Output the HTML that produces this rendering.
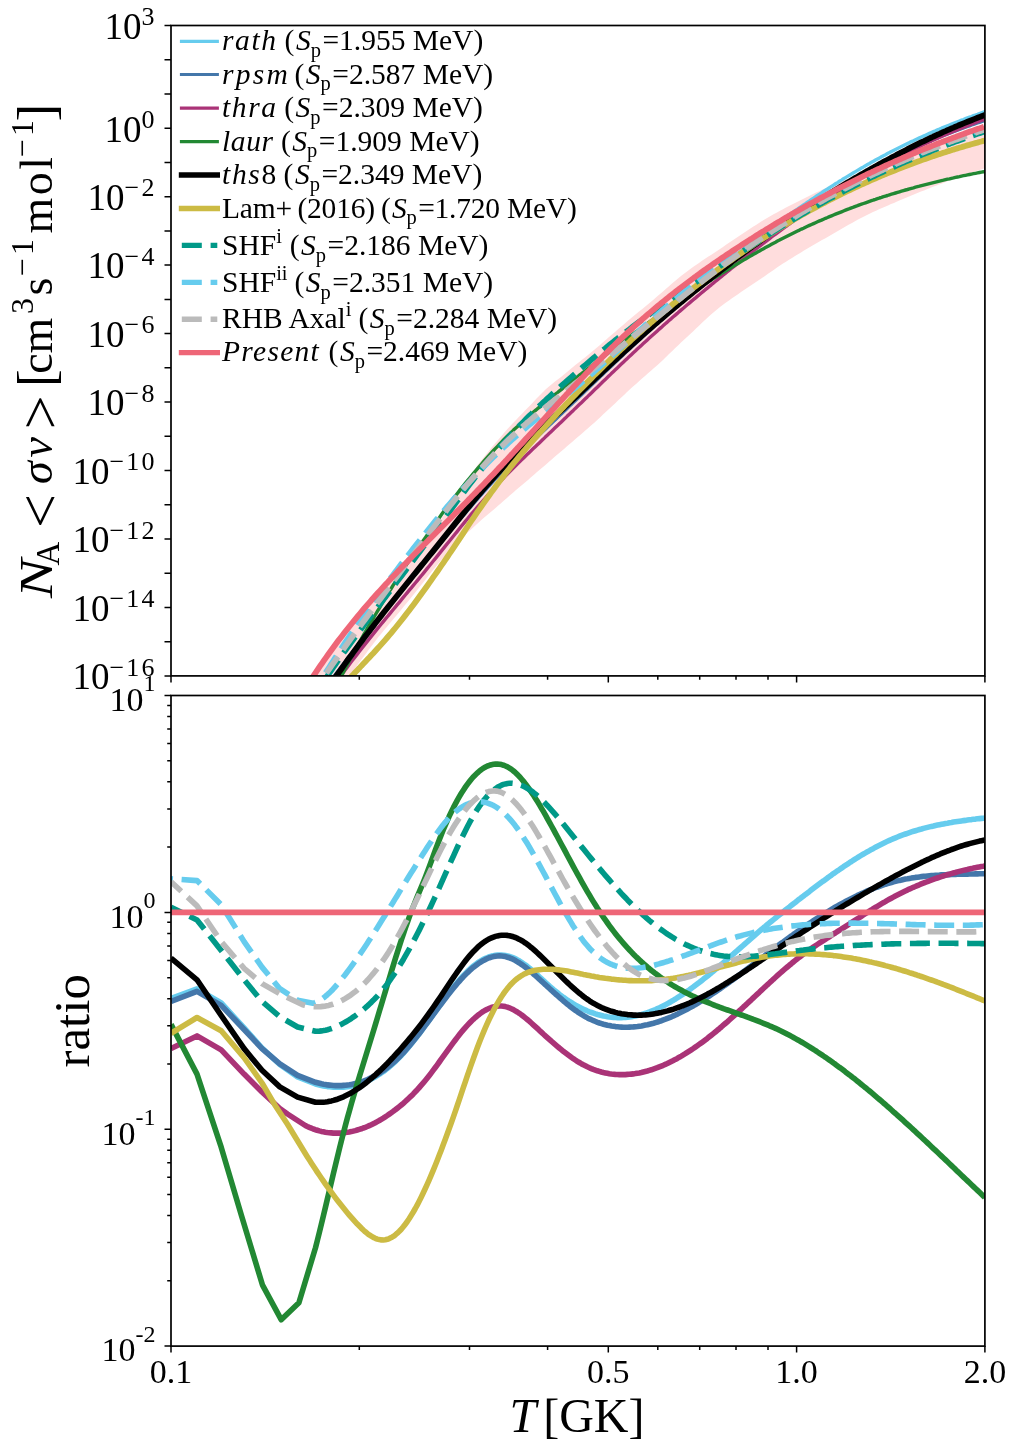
<!DOCTYPE html>
<html><head><meta charset="utf-8"><title>Reaction rates</title>
<style>html,body{margin:0;padding:0;background:#fff}svg{display:block}text{font-family:"Liberation Serif","DejaVu Serif",serif;fill:#000}.it{font-style:italic}</style></head><body>
<svg width="1020" height="1455" viewBox="0 0 1020 1455">
<rect width="1020" height="1455" fill="#fff"/>
<defs><clipPath id="ct"><rect x="171.0" y="25.5" width="813.9" height="650.4"/></clipPath><clipPath id="cb"><rect x="171.0" y="695.5" width="813.9" height="650.5999999999999"/></clipPath></defs>
<g clip-path="url(#ct)" fill="none" stroke-linejoin="round">
<polygon points="300.0,694.3 303.0,689.4 306.0,684.6 309.0,679.9 312.0,675.2 315.0,670.7 318.0,666.2 321.0,661.8 324.0,657.4 327.0,653.2 330.0,649.0 333.0,644.9 336.0,640.8 339.0,636.8 342.0,632.9 345.0,629.0 348.0,625.2 351.0,621.4 354.0,617.7 357.0,614.1 360.0,610.5 363.0,606.9 366.0,603.4 369.0,599.9 372.0,596.5 375.0,593.1 378.0,589.8 381.0,586.5 384.0,583.2 387.0,579.9 390.0,576.6 393.0,573.3 396.0,570.0 399.0,566.8 402.0,563.6 405.0,560.3 408.0,557.1 411.0,553.9 414.0,550.7 417.0,547.4 420.0,544.1 423.0,540.7 426.0,537.3 429.0,533.8 432.0,530.3 435.0,526.7 438.0,523.0 441.0,519.0 444.0,514.8 447.0,510.4 450.0,506.0 453.0,501.6 456.0,497.2 459.0,492.6 462.0,488.0 465.0,483.3 468.0,478.8 471.0,474.4 474.0,470.2 477.0,466.0 480.0,462.1 483.0,458.2 486.0,454.5 489.0,450.8 492.0,447.1 495.0,443.6 498.0,440.0 501.0,436.5 504.0,433.0 507.0,429.6 510.0,426.2 513.0,423.0 516.0,419.9 519.0,416.8 522.0,413.7 525.0,410.6 528.0,407.5 531.0,404.4 534.0,401.2 537.0,398.0 540.0,394.9 543.0,391.9 546.0,389.1 549.0,386.4 552.0,384.0 555.0,381.6 558.0,379.2 561.0,376.9 564.0,374.5 567.0,372.0 570.0,369.5 573.0,367.1 576.0,364.6 579.0,362.2 582.0,359.8 585.0,357.4 588.0,354.9 591.0,352.5 594.0,350.0 597.0,347.5 600.0,344.9 603.0,342.3 606.0,339.7 609.0,337.1 612.0,334.5 615.0,331.9 618.0,329.3 621.0,326.8 624.0,324.2 627.0,321.6 630.0,319.1 633.0,316.6 636.0,314.1 639.0,311.6 642.0,309.2 645.0,306.7 648.0,304.2 651.0,301.7 654.0,299.2 657.0,296.6 660.0,294.0 663.0,291.4 666.0,288.8 669.0,286.2 672.0,283.6 675.0,281.0 678.0,278.5 681.0,276.1 684.0,273.7 687.0,271.4 690.0,269.2 693.0,267.0 696.0,264.9 699.0,262.9 702.0,260.8 705.0,258.8 708.0,256.8 711.0,254.9 714.0,252.9 717.0,250.9 720.0,248.9 723.0,246.9 726.0,244.8 729.0,242.8 732.0,240.8 735.0,238.7 738.0,236.7 741.0,234.7 744.0,232.7 747.0,230.7 750.0,228.7 753.0,226.8 756.0,224.9 759.0,223.0 762.0,221.1 765.0,219.3 768.0,217.5 771.0,215.8 774.0,214.1 777.0,212.5 780.0,210.8 783.0,209.2 786.0,207.6 789.0,206.1 792.0,204.5 795.0,202.9 798.0,201.4 801.0,199.9 804.0,198.4 807.0,196.9 810.0,195.4 813.0,194.0 816.0,192.6 819.0,191.2 822.0,189.8 825.0,188.5 828.0,187.1 831.0,185.8 834.0,184.5 837.0,183.3 840.0,182.1 843.0,180.9 846.0,179.7 849.0,178.5 852.0,177.3 855.0,176.1 858.0,174.9 861.0,173.6 864.0,172.4 867.0,171.2 870.0,169.9 873.0,168.7 876.0,167.5 879.0,166.3 882.0,165.1 885.0,163.8 888.0,162.6 891.0,161.4 894.0,160.1 897.0,158.9 900.0,157.7 903.0,156.5 906.0,155.3 909.0,154.1 912.0,152.9 915.0,151.7 918.0,150.5 921.0,149.4 924.0,148.2 927.0,147.0 930.0,145.9 933.0,144.8 936.0,143.6 939.0,142.5 942.0,141.4 945.0,140.3 948.0,139.2 951.0,138.1 954.0,137.1 957.0,136.0 960.0,135.0 963.0,133.9 966.0,132.9 969.0,131.8 972.0,130.8 975.0,129.8 978.0,128.8 981.0,127.8 984.0,126.8 984.0,168.5 981.0,169.5 978.0,170.5 975.0,171.5 972.0,172.6 969.0,173.6 966.0,174.6 963.0,175.7 960.0,176.8 957.0,177.8 954.0,178.9 951.0,180.0 948.0,181.1 945.0,182.3 942.0,183.4 939.0,184.5 936.0,185.7 933.0,186.8 930.0,188.0 927.0,189.2 924.0,190.4 921.0,191.6 918.0,192.8 915.0,194.0 912.0,195.3 909.0,196.5 906.0,197.8 903.0,199.0 900.0,200.3 897.0,201.6 894.0,202.9 891.0,204.1 888.0,205.4 885.0,206.7 882.0,208.0 879.0,209.3 876.0,210.7 873.0,212.1 870.0,213.5 867.0,214.9 864.0,216.4 861.0,218.0 858.0,219.6 855.0,221.2 852.0,222.9 849.0,224.6 846.0,226.3 843.0,228.0 840.0,229.7 837.0,231.5 834.0,233.2 831.0,234.9 828.0,236.7 825.0,238.4 822.0,240.1 819.0,241.8 816.0,243.6 813.0,245.3 810.0,247.0 807.0,248.8 804.0,250.6 801.0,252.4 798.0,254.2 795.0,256.0 792.0,257.9 789.0,259.8 786.0,261.7 783.0,263.6 780.0,265.6 777.0,267.6 774.0,269.7 771.0,271.7 768.0,273.8 765.0,275.9 762.0,277.9 759.0,280.0 756.0,282.0 753.0,284.0 750.0,286.0 747.0,288.0 744.0,290.1 741.0,292.1 738.0,294.2 735.0,296.2 732.0,298.3 729.0,300.4 726.0,302.6 723.0,304.8 720.0,307.1 717.0,309.4 714.0,312.0 711.0,314.6 708.0,317.3 705.0,320.0 702.0,322.8 699.0,325.7 696.0,328.5 693.0,331.4 690.0,334.2 687.0,336.9 684.0,339.7 681.0,342.5 678.0,345.4 675.0,348.3 672.0,351.2 669.0,354.1 666.0,357.0 663.0,359.9 660.0,362.7 657.0,365.5 654.0,368.1 651.0,370.7 648.0,373.3 645.0,375.9 642.0,378.5 639.0,381.2 636.0,383.9 633.0,386.6 630.0,389.3 627.0,392.1 624.0,394.9 621.0,397.8 618.0,400.6 615.0,403.5 612.0,406.3 609.0,409.1 606.0,411.8 603.0,414.6 600.0,417.4 597.0,420.2 594.0,422.9 591.0,425.5 588.0,428.2 585.0,430.8 582.0,433.4 579.0,436.0 576.0,438.6 573.0,441.2 570.0,443.8 567.0,446.3 564.0,448.9 561.0,451.4 558.0,454.0 555.0,456.6 552.0,459.2 549.0,461.8 546.0,464.4 543.0,467.0 540.0,469.5 537.0,472.1 534.0,474.7 531.0,477.3 528.0,479.9 525.0,482.4 522.0,485.0 519.0,487.5 516.0,490.1 513.0,492.7 510.0,495.2 507.0,497.9 504.0,500.5 501.0,503.2 498.0,505.8 495.0,508.4 492.0,510.9 489.0,513.4 486.0,516.0 483.0,518.6 480.0,521.3 477.0,524.0 474.0,526.7 471.0,529.4 468.0,532.2 465.0,535.0 462.0,537.8 459.0,540.7 456.0,543.6 453.0,546.7 450.0,550.0 447.0,553.4 444.0,556.9 441.0,560.5 438.0,564.1 435.0,567.7 432.0,571.3 429.0,575.1 426.0,578.9 423.0,582.7 420.0,586.5 417.0,590.3 414.0,594.0 411.0,597.7 408.0,601.4 405.0,605.1 402.0,608.8 399.0,612.4 396.0,616.0 393.0,619.5 390.0,623.1 387.0,626.7 384.0,630.3 381.0,633.9 378.0,637.6 375.0,641.5 372.0,645.4 369.0,649.3 366.0,653.4 363.0,657.4 360.0,661.5 357.0,665.6 354.0,669.8 351.0,674.0 348.0,678.2 345.0,682.5 342.0,686.7 339.0,690.9 336.0,695.1 333.0,699.4 330.0,703.7 327.0,708.1 324.0,712.6 321.0,717.1 318.0,721.7 315.0,726.3 312.0,731.0 309.0,735.7 306.0,740.5 303.0,745.4 300.0,750.3" fill="#ffdddd" stroke="none"/>
<path d="M297.6,729.9 L315.5,702.7 L317.5,699.8 L319.5,696.9 L321.5,694.1 L323.5,691.3 L325.5,688.5 L327.5,685.7 L329.5,683.0 L331.5,680.2 L333.5,677.5 L335.5,674.8 L337.5,672.2 L339.5,669.5 L341.5,666.9 L343.5,664.2 L345.5,661.6 L347.5,658.9 L349.5,656.3 L351.5,653.7 L353.5,651.1 L355.5,648.6 L357.5,646.0 L359.5,643.5 L361.5,640.9 L363.5,638.4 L365.5,635.9 L367.5,633.4 L369.5,630.9 L371.5,628.4 L373.5,625.9 L375.5,623.4 L377.5,620.9 L379.5,618.4 L381.5,616.0 L383.5,613.5 L385.5,611.1 L387.5,608.6 L389.5,606.1 L391.5,603.7 L393.5,601.2 L395.5,598.8 L397.5,596.3 L399.5,593.8 L401.5,591.4 L403.5,588.9 L405.5,586.4 L407.5,583.9 L409.5,581.5 L411.5,579.0 L413.5,576.5 L415.5,574.0 L417.5,571.5 L419.5,569.1 L421.5,566.6 L423.5,564.1 L425.5,561.6 L427.5,559.1 L429.5,556.6 L431.5,554.2 L433.5,551.7 L435.5,549.2 L437.5,546.7 L439.5,544.3 L441.5,541.8 L443.5,539.3 L445.5,536.9 L447.5,534.4 L449.5,532.0 L451.5,529.5 L453.5,527.1 L455.5,524.7 L457.5,522.2 L459.5,519.8 L461.5,517.4 L463.5,515.0 L465.5,512.6 L467.5,510.3 L469.5,507.9 L471.5,505.6 L473.5,503.2 L475.5,500.9 L477.5,498.6 L479.5,496.3 L481.5,494.1 L483.5,491.8 L485.5,489.6 L487.5,487.3 L489.5,485.1 L491.5,482.9 L493.5,480.7 L495.5,478.6 L497.5,476.4 L499.5,474.3 L501.5,472.1 L503.5,470.0 L505.5,467.9 L507.5,465.8 L509.5,463.7 L511.5,461.7 L513.5,459.6 L515.5,457.6 L517.5,455.6 L519.5,453.6 L521.5,451.6 L523.5,449.7 L525.5,447.7 L527.5,445.8 L529.5,443.8 L531.5,441.9 L533.5,440.0 L535.5,438.0 L537.5,436.1 L539.5,434.2 L541.5,432.3 L543.5,430.4 L545.5,428.5 L547.5,426.6 L549.5,424.7 L551.5,422.8 L553.5,420.9 L555.5,419.0 L557.5,417.0 L559.5,415.1 L561.5,413.2 L563.5,411.2 L565.5,409.3 L567.5,407.4 L569.5,405.4 L571.5,403.5 L573.5,401.5 L575.5,399.6 L577.5,397.6 L579.5,395.7 L581.5,393.7 L583.5,391.7 L585.5,389.8 L587.5,387.8 L589.5,385.9 L591.5,383.9 L593.5,382.0 L595.5,380.0 L597.5,378.1 L599.5,376.1 L601.5,374.2 L603.5,372.2 L605.5,370.3 L607.5,368.3 L609.5,366.4 L611.5,364.5 L613.5,362.5 L615.5,360.6 L617.5,358.7 L619.5,356.8 L621.5,354.9 L623.5,353.0 L625.5,351.1 L627.5,349.2 L629.5,347.3 L631.5,345.4 L633.5,343.6 L635.5,341.7 L637.5,339.8 L639.5,338.0 L641.5,336.1 L643.5,334.2 L645.5,332.4 L647.5,330.6 L649.5,328.7 L651.5,326.9 L653.5,325.1 L655.5,323.2 L657.5,321.4 L659.5,319.6 L661.5,317.8 L663.5,316.0 L665.5,314.2 L667.5,312.5 L669.5,310.7 L671.5,308.9 L673.5,307.1 L675.5,305.4 L677.5,303.6 L679.5,301.9 L681.5,300.2 L683.5,298.4 L685.5,296.7 L687.5,295.0 L689.5,293.3 L691.5,291.6 L693.5,289.8 L695.5,288.1 L697.5,286.5 L699.5,284.8 L701.5,283.1 L703.5,281.4 L705.5,279.7 L707.5,278.1 L709.5,276.4 L711.5,274.8 L713.5,273.1 L715.5,271.5 L717.5,269.8 L719.5,268.2 L721.5,266.6 L723.5,264.9 L725.5,263.3 L727.5,261.7 L729.5,260.1 L731.5,258.5 L733.5,256.9 L735.5,255.3 L737.5,253.7 L739.5,252.1 L741.5,250.6 L743.5,249.0 L745.5,247.4 L747.5,245.9 L749.5,244.3 L751.5,242.8 L753.5,241.2 L755.5,239.7 L757.5,238.1 L759.5,236.6 L761.5,235.1 L763.5,233.6 L765.5,232.1 L767.5,230.6 L769.5,229.1 L771.5,227.7 L773.5,226.2 L775.5,224.7 L777.5,223.3 L779.5,221.8 L781.5,220.4 L783.5,219.0 L785.5,217.5 L787.5,216.1 L789.5,214.7 L791.5,213.3 L793.5,211.9 L795.5,210.5 L797.5,209.1 L799.5,207.7 L801.5,206.3 L803.5,204.9 L805.5,203.6 L807.5,202.2 L809.5,200.9 L811.5,199.5 L813.5,198.2 L815.5,196.8 L817.5,195.5 L819.5,194.2 L821.5,192.9 L823.5,191.5 L825.5,190.2 L827.5,189.0 L829.5,187.7 L831.5,186.4 L833.5,185.1 L835.5,183.8 L837.5,182.6 L839.5,181.3 L841.5,180.1 L843.5,178.8 L845.5,177.6 L847.5,176.4 L849.5,175.2 L851.5,174.0 L853.5,172.8 L855.5,171.6 L857.5,170.4 L859.5,169.2 L861.5,168.0 L863.5,166.9 L865.5,165.7 L867.5,164.6 L869.5,163.5 L871.5,162.3 L873.5,161.2 L875.5,160.1 L877.5,159.0 L879.5,157.9 L881.5,156.8 L883.5,155.7 L885.5,154.7 L887.5,153.6 L889.5,152.6 L891.5,151.5 L893.5,150.5 L895.5,149.5 L897.5,148.5 L899.5,147.5 L901.5,146.5 L903.5,145.5 L905.5,144.5 L907.5,143.5 L909.5,142.6 L911.5,141.6 L913.5,140.7 L915.5,139.7 L917.5,138.8 L919.5,137.9 L921.5,137.0 L923.5,136.1 L925.5,135.2 L927.5,134.3 L929.5,133.4 L931.5,132.5 L933.5,131.6 L935.5,130.8 L937.5,129.9 L939.5,129.1 L941.5,128.2 L943.5,127.4 L945.5,126.6 L947.5,125.8 L949.5,125.0 L951.5,124.2 L953.5,123.4 L955.5,122.6 L957.5,121.8 L959.5,121.0 L961.5,120.2 L963.5,119.5 L965.5,118.7 L967.5,117.9 L969.5,117.2 L971.5,116.5 L973.5,115.7 L975.5,115.0 L977.5,114.3 L979.5,113.5 L981.5,112.8 L983.5,112.1 L984.9,111.6" stroke="#66ccee" stroke-width="3.4"/>
<path d="M297.6,729.6 L315.5,702.4 L317.5,699.5 L319.5,696.6 L321.5,693.8 L323.5,691.0 L325.5,688.2 L327.5,685.4 L329.5,682.7 L331.5,679.9 L333.5,677.2 L335.5,674.5 L337.5,671.9 L339.5,669.2 L341.5,666.6 L343.5,663.9 L345.5,661.3 L347.5,658.6 L349.5,656.0 L351.5,653.4 L353.5,650.9 L355.5,648.3 L357.5,645.7 L359.5,643.2 L361.5,640.7 L363.5,638.1 L365.5,635.6 L367.5,633.1 L369.5,630.6 L371.5,628.1 L373.5,625.7 L375.5,623.2 L377.5,620.7 L379.5,618.3 L381.5,615.8 L383.5,613.3 L385.5,610.9 L387.5,608.4 L389.5,606.0 L391.5,603.5 L393.5,601.1 L395.5,598.6 L397.5,596.2 L399.5,593.7 L401.5,591.3 L403.5,588.8 L405.5,586.4 L407.5,583.9 L409.5,581.4 L411.5,579.0 L413.5,576.5 L415.5,574.0 L417.5,571.5 L419.5,569.1 L421.5,566.6 L423.5,564.1 L425.5,561.6 L427.5,559.2 L429.5,556.7 L431.5,554.2 L433.5,551.8 L435.5,549.3 L437.5,546.8 L439.5,544.4 L441.5,541.9 L443.5,539.5 L445.5,537.0 L447.5,534.6 L449.5,532.1 L451.5,529.7 L453.5,527.3 L455.5,524.8 L457.5,522.4 L459.5,520.0 L461.5,517.6 L463.5,515.2 L465.5,512.8 L467.5,510.5 L469.5,508.1 L471.5,505.8 L473.5,503.4 L475.5,501.1 L477.5,498.8 L479.5,496.5 L481.5,494.3 L483.5,492.0 L485.5,489.8 L487.5,487.5 L489.5,485.3 L491.5,483.1 L493.5,480.9 L495.5,478.7 L497.5,476.6 L499.5,474.4 L501.5,472.3 L503.5,470.2 L505.5,468.1 L507.5,466.0 L509.5,464.0 L511.5,461.9 L513.5,459.9 L515.5,457.9 L517.5,455.9 L519.5,453.9 L521.5,452.0 L523.5,450.0 L525.5,448.0 L527.5,446.1 L529.5,444.2 L531.5,442.2 L533.5,440.3 L535.5,438.4 L537.5,436.5 L539.5,434.6 L541.5,432.7 L543.5,430.8 L545.5,428.9 L547.5,427.0 L549.5,425.1 L551.5,423.2 L553.5,421.3 L555.5,419.4 L557.5,417.5 L559.5,415.6 L561.5,413.7 L563.5,411.8 L565.5,409.9 L567.5,408.0 L569.5,406.1 L571.5,404.2 L573.5,402.3 L575.5,400.4 L577.5,398.5 L579.5,396.6 L581.5,394.7 L583.5,392.8 L585.5,390.8 L587.5,388.9 L589.5,387.0 L591.5,385.1 L593.5,383.1 L595.5,381.2 L597.5,379.3 L599.5,377.4 L601.5,375.4 L603.5,373.5 L605.5,371.6 L607.5,369.7 L609.5,367.8 L611.5,365.9 L613.5,364.0 L615.5,362.1 L617.5,360.2 L619.5,358.3 L621.5,356.4 L623.5,354.5 L625.5,352.6 L627.5,350.8 L629.5,348.9 L631.5,347.1 L633.5,345.2 L635.5,343.4 L637.5,341.5 L639.5,339.7 L641.5,337.9 L643.5,336.1 L645.5,334.3 L647.5,332.5 L649.5,330.7 L651.5,328.9 L653.5,327.1 L655.5,325.3 L657.5,323.5 L659.5,321.8 L661.5,320.0 L663.5,318.3 L665.5,316.5 L667.5,314.8 L669.5,313.1 L671.5,311.3 L673.5,309.6 L675.5,307.9 L677.5,306.2 L679.5,304.5 L681.5,302.8 L683.5,301.1 L685.5,299.5 L687.5,297.8 L689.5,296.1 L691.5,294.5 L693.5,292.8 L695.5,291.2 L697.5,289.5 L699.5,287.9 L701.5,286.3 L703.5,284.7 L705.5,283.0 L707.5,281.4 L709.5,279.8 L711.5,278.2 L713.5,276.6 L715.5,275.0 L717.5,273.4 L719.5,271.8 L721.5,270.3 L723.5,268.7 L725.5,267.1 L727.5,265.6 L729.5,264.0 L731.5,262.4 L733.5,260.9 L735.5,259.3 L737.5,257.8 L739.5,256.3 L741.5,254.7 L743.5,253.2 L745.5,251.7 L747.5,250.1 L749.5,248.6 L751.5,247.1 L753.5,245.6 L755.5,244.1 L757.5,242.6 L759.5,241.1 L761.5,239.6 L763.5,238.2 L765.5,236.7 L767.5,235.2 L769.5,233.8 L771.5,232.3 L773.5,230.9 L775.5,229.4 L777.5,228.0 L779.5,226.5 L781.5,225.1 L783.5,223.7 L785.5,222.3 L787.5,220.9 L789.5,219.5 L791.5,218.1 L793.5,216.7 L795.5,215.3 L797.5,214.0 L799.5,212.6 L801.5,211.3 L803.5,209.9 L805.5,208.6 L807.5,207.2 L809.5,205.9 L811.5,204.6 L813.5,203.3 L815.5,202.0 L817.5,200.7 L819.5,199.4 L821.5,198.1 L823.5,196.8 L825.5,195.6 L827.5,194.3 L829.5,193.0 L831.5,191.8 L833.5,190.6 L835.5,189.3 L837.5,188.1 L839.5,186.9 L841.5,185.7 L843.5,184.5 L845.5,183.3 L847.5,182.1 L849.5,181.0 L851.5,179.8 L853.5,178.6 L855.5,177.5 L857.5,176.3 L859.5,175.2 L861.5,174.1 L863.5,173.0 L865.5,171.9 L867.5,170.8 L869.5,169.7 L871.5,168.6 L873.5,167.5 L875.5,166.5 L877.5,165.4 L879.5,164.4 L881.5,163.3 L883.5,162.3 L885.5,161.3 L887.5,160.3 L889.5,159.3 L891.5,158.3 L893.5,157.3 L895.5,156.3 L897.5,155.4 L899.5,154.4 L901.5,153.5 L903.5,152.5 L905.5,151.6 L907.5,150.7 L909.5,149.8 L911.5,148.9 L913.5,148.0 L915.5,147.1 L917.5,146.2 L919.5,145.4 L921.5,144.5 L923.5,143.6 L925.5,142.8 L927.5,141.9 L929.5,141.1 L931.5,140.3 L933.5,139.5 L935.5,138.6 L937.5,137.8 L939.5,137.0 L941.5,136.2 L943.5,135.5 L945.5,134.7 L947.5,133.9 L949.5,133.1 L951.5,132.4 L953.5,131.6 L955.5,130.9 L957.5,130.1 L959.5,129.4 L961.5,128.6 L963.5,127.9 L965.5,127.2 L967.5,126.5 L969.5,125.8 L971.5,125.0 L973.5,124.3 L975.5,123.6 L977.5,122.9 L979.5,122.3 L981.5,121.6 L983.5,120.9 L984.9,120.4" stroke="#4477aa" stroke-width="3.4"/>
<path d="M305.3,725.7 L307.3,722.7 L309.3,719.7 L311.3,716.8 L313.3,713.8 L315.3,710.9 L317.3,708.1 L319.3,705.2 L321.3,702.4 L323.3,699.5 L325.3,696.7 L327.3,694.0 L329.3,691.2 L331.3,688.5 L333.3,685.8 L335.3,683.1 L337.3,680.4 L339.3,677.7 L341.3,675.1 L343.3,672.4 L345.3,669.7 L347.3,667.1 L349.3,664.4 L351.3,661.8 L353.3,659.2 L355.3,656.6 L357.3,654.1 L359.3,651.5 L361.3,648.9 L363.3,646.4 L365.3,643.9 L367.3,641.4 L369.3,638.9 L371.3,636.4 L373.3,633.9 L375.3,631.4 L377.3,628.9 L379.3,626.5 L381.3,624.0 L383.3,621.6 L385.3,619.2 L387.3,616.7 L389.3,614.3 L391.3,611.9 L393.3,609.5 L395.3,607.1 L397.3,604.7 L399.3,602.3 L401.3,599.9 L403.3,597.4 L405.3,595.0 L407.3,592.6 L409.3,590.2 L411.3,587.8 L413.3,585.4 L415.3,583.0 L417.3,580.6 L419.3,578.2 L421.3,575.7 L423.3,573.3 L425.3,570.9 L427.3,568.4 L429.3,566.0 L431.3,563.5 L433.3,561.0 L435.3,558.6 L437.3,556.1 L439.3,553.6 L441.3,551.1 L443.3,548.6 L445.3,546.1 L447.3,543.7 L449.3,541.2 L451.3,538.7 L453.3,536.2 L455.3,533.7 L457.3,531.3 L459.3,528.8 L461.3,526.3 L463.3,523.9 L465.3,521.4 L467.3,519.0 L469.3,516.6 L471.3,514.2 L473.3,511.9 L475.3,509.5 L477.3,507.2 L479.3,504.9 L481.3,502.6 L483.3,500.3 L485.3,498.0 L487.3,495.7 L489.3,493.5 L491.3,491.3 L493.3,489.0 L495.3,486.9 L497.3,484.7 L499.3,482.5 L501.3,480.4 L503.3,478.3 L505.3,476.2 L507.3,474.1 L509.3,472.1 L511.3,470.0 L513.3,468.0 L515.3,466.0 L517.3,464.0 L519.3,462.1 L521.3,460.1 L523.3,458.2 L525.3,456.2 L527.3,454.3 L529.3,452.4 L531.3,450.5 L533.3,448.6 L535.3,446.7 L537.3,444.8 L539.3,442.9 L541.3,441.0 L543.3,439.1 L545.3,437.1 L547.3,435.2 L549.3,433.3 L551.3,431.4 L553.3,429.5 L555.3,427.6 L557.3,425.7 L559.3,423.8 L561.3,421.9 L563.3,420.0 L565.3,418.1 L567.3,416.1 L569.3,414.2 L571.3,412.3 L573.3,410.4 L575.3,408.4 L577.3,406.5 L579.3,404.6 L581.3,402.7 L583.3,400.7 L585.3,398.8 L587.3,396.9 L589.3,394.9 L591.3,393.0 L593.3,391.0 L595.3,389.1 L597.3,387.2 L599.3,385.2 L601.3,383.3 L603.3,381.3 L605.3,379.4 L607.3,377.5 L609.3,375.6 L611.3,373.6 L613.3,371.7 L615.3,369.8 L617.3,367.9 L619.3,366.0 L621.3,364.1 L623.3,362.2 L625.3,360.3 L627.3,358.4 L629.3,356.6 L631.3,354.7 L633.3,352.8 L635.3,351.0 L637.3,349.1 L639.3,347.3 L641.3,345.4 L643.3,343.6 L645.3,341.8 L647.3,339.9 L649.3,338.1 L651.3,336.3 L653.3,334.5 L655.3,332.7 L657.3,330.9 L659.3,329.1 L661.3,327.4 L663.3,325.6 L665.3,323.8 L667.3,322.1 L669.3,320.3 L671.3,318.6 L673.3,316.8 L675.3,315.1 L677.3,313.4 L679.3,311.6 L681.3,309.9 L683.3,308.2 L685.3,306.5 L687.3,304.8 L689.3,303.1 L691.3,301.4 L693.3,299.7 L695.3,298.1 L697.3,296.4 L699.3,294.7 L701.3,293.0 L703.3,291.4 L705.3,289.7 L707.3,288.1 L709.3,286.4 L711.3,284.8 L713.3,283.1 L715.3,281.5 L717.3,279.9 L719.3,278.2 L721.3,276.6 L723.3,275.0 L725.3,273.4 L727.3,271.7 L729.3,270.1 L731.3,268.5 L733.3,266.9 L735.3,265.3 L737.3,263.7 L739.3,262.1 L741.3,260.5 L743.3,258.9 L745.3,257.3 L747.3,255.8 L749.3,254.2 L751.3,252.6 L753.3,251.0 L755.3,249.5 L757.3,247.9 L759.3,246.4 L761.3,244.8 L763.3,243.3 L765.3,241.8 L767.3,240.3 L769.3,238.8 L771.3,237.2 L773.3,235.7 L775.3,234.3 L777.3,232.8 L779.3,231.3 L781.3,229.8 L783.3,228.4 L785.3,226.9 L787.3,225.5 L789.3,224.0 L791.3,222.6 L793.3,221.2 L795.3,219.8 L797.3,218.4 L799.3,217.0 L801.3,215.6 L803.3,214.3 L805.3,212.9 L807.3,211.5 L809.3,210.2 L811.3,208.9 L813.3,207.6 L815.3,206.2 L817.3,204.9 L819.3,203.7 L821.3,202.4 L823.3,201.1 L825.3,199.8 L827.3,198.5 L829.3,197.3 L831.3,196.0 L833.3,194.8 L835.3,193.5 L837.3,192.3 L839.3,191.1 L841.3,189.8 L843.3,188.6 L845.3,187.4 L847.3,186.2 L849.3,184.9 L851.3,183.7 L853.3,182.5 L855.3,181.3 L857.3,180.1 L859.3,179.0 L861.3,177.8 L863.3,176.6 L865.3,175.4 L867.3,174.3 L869.3,173.1 L871.3,172.0 L873.3,170.8 L875.3,169.7 L877.3,168.6 L879.3,167.4 L881.3,166.3 L883.3,165.2 L885.3,164.1 L887.3,163.0 L889.3,162.0 L891.3,160.9 L893.3,159.8 L895.3,158.8 L897.3,157.7 L899.3,156.7 L901.3,155.6 L903.3,154.6 L905.3,153.6 L907.3,152.6 L909.3,151.6 L911.3,150.6 L913.3,149.6 L915.3,148.6 L917.3,147.6 L919.3,146.7 L921.3,145.7 L923.3,144.8 L925.3,143.8 L927.3,142.9 L929.3,142.0 L931.3,141.1 L933.3,140.1 L935.3,139.2 L937.3,138.4 L939.3,137.5 L941.3,136.6 L943.3,135.7 L945.3,134.8 L947.3,134.0 L949.3,133.1 L951.3,132.3 L953.3,131.5 L955.3,130.6 L957.3,129.8 L959.3,129.0 L961.3,128.2 L963.3,127.4 L965.3,126.6 L967.3,125.8 L969.3,125.0 L971.3,124.3 L973.3,123.5 L975.3,122.7 L977.3,122.0 L979.3,121.2 L981.3,120.5 L983.3,119.8 L984.9,119.2" stroke="#aa3377" stroke-width="3.4"/>
<path d="M298.9,766.9 L315.5,731.1 L317.5,726.8 L319.5,722.4 L321.5,718.1 L323.5,713.8 L325.5,709.4 L327.5,705.2 L329.5,700.9 L331.5,696.7 L333.5,692.5 L335.5,688.3 L337.5,684.2 L339.5,680.1 L341.5,676.1 L343.5,672.1 L345.5,668.1 L347.5,664.3 L349.5,660.5 L351.5,656.7 L353.5,653.0 L355.5,649.3 L357.5,645.7 L359.5,642.1 L361.5,638.6 L363.5,635.1 L365.5,631.6 L367.5,628.1 L369.5,624.7 L371.5,621.3 L373.5,617.9 L375.5,614.5 L377.5,611.1 L379.5,607.8 L381.5,604.4 L383.5,601.1 L385.5,597.8 L387.5,594.5 L389.5,591.2 L391.5,588.0 L393.5,584.7 L395.5,581.6 L397.5,578.4 L399.5,575.3 L401.5,572.1 L403.5,569.1 L405.5,566.0 L407.5,563.0 L409.5,560.1 L411.5,557.1 L413.5,554.3 L415.5,551.4 L417.5,548.6 L419.5,545.8 L421.5,543.0 L423.5,540.2 L425.5,537.4 L427.5,534.6 L429.5,531.7 L431.5,528.8 L433.5,525.9 L435.5,523.1 L437.5,520.2 L439.5,517.4 L441.5,514.6 L443.5,511.8 L445.5,509.1 L447.5,506.4 L449.5,503.7 L451.5,501.0 L453.5,498.4 L455.5,495.8 L457.5,493.2 L459.5,490.6 L461.5,488.1 L463.5,485.6 L465.5,483.1 L467.5,480.7 L469.5,478.2 L471.5,475.8 L473.5,473.4 L475.5,471.0 L477.5,468.6 L479.5,466.3 L481.5,464.0 L483.5,461.7 L485.5,459.4 L487.5,457.1 L489.5,454.9 L491.5,452.7 L493.5,450.5 L495.5,448.4 L497.5,446.3 L499.5,444.2 L501.5,442.1 L503.5,440.0 L505.5,438.0 L507.5,436.0 L509.5,434.0 L511.5,432.1 L513.5,430.1 L515.5,428.2 L517.5,426.4 L519.5,424.5 L521.5,422.7 L523.5,420.9 L525.5,419.1 L527.5,417.3 L529.5,415.6 L531.5,413.8 L533.5,412.1 L535.5,410.4 L537.5,408.7 L539.5,407.1 L541.5,405.4 L543.5,403.8 L545.5,402.1 L547.5,400.5 L549.5,398.9 L551.5,397.3 L553.5,395.6 L555.5,394.0 L557.5,392.5 L559.5,390.9 L561.5,389.3 L563.5,387.7 L565.5,386.1 L567.5,384.6 L569.5,383.0 L571.5,381.4 L573.5,379.9 L575.5,378.3 L577.5,376.8 L579.5,375.2 L581.5,373.7 L583.5,372.1 L585.5,370.6 L587.5,369.0 L589.5,367.5 L591.5,365.9 L593.5,364.4 L595.5,362.8 L597.5,361.3 L599.5,359.7 L601.5,358.2 L603.5,356.6 L605.5,355.1 L607.5,353.6 L609.5,352.0 L611.5,350.5 L613.5,348.9 L615.5,347.4 L617.5,345.9 L619.5,344.3 L621.5,342.8 L623.5,341.3 L625.5,339.8 L627.5,338.3 L629.5,336.7 L631.5,335.2 L633.5,333.7 L635.5,332.2 L637.5,330.8 L639.5,329.3 L641.5,327.8 L643.5,326.3 L645.5,324.8 L647.5,323.4 L649.5,321.9 L651.5,320.5 L653.5,319.0 L655.5,317.6 L657.5,316.1 L659.5,314.7 L661.5,313.3 L663.5,311.9 L665.5,310.5 L667.5,309.1 L669.5,307.7 L671.5,306.3 L673.5,304.9 L675.5,303.5 L677.5,302.1 L679.5,300.8 L681.5,299.4 L683.5,298.0 L685.5,296.7 L687.5,295.3 L689.5,294.0 L691.5,292.7 L693.5,291.4 L695.5,290.0 L697.5,288.7 L699.5,287.4 L701.5,286.1 L703.5,284.8 L705.5,283.5 L707.5,282.3 L709.5,281.0 L711.5,279.7 L713.5,278.4 L715.5,277.2 L717.5,275.9 L719.5,274.7 L721.5,273.4 L723.5,272.2 L725.5,271.0 L727.5,269.7 L729.5,268.5 L731.5,267.3 L733.5,266.1 L735.5,264.9 L737.5,263.7 L739.5,262.5 L741.5,261.3 L743.5,260.1 L745.5,259.0 L747.5,257.8 L749.5,256.6 L751.5,255.5 L753.5,254.3 L755.5,253.2 L757.5,252.0 L759.5,250.9 L761.5,249.8 L763.5,248.7 L765.5,247.6 L767.5,246.5 L769.5,245.4 L771.5,244.3 L773.5,243.2 L775.5,242.2 L777.5,241.1 L779.5,240.1 L781.5,239.0 L783.5,238.0 L785.5,237.0 L787.5,236.0 L789.5,235.0 L791.5,234.0 L793.5,233.0 L795.5,232.0 L797.5,231.0 L799.5,230.1 L801.5,229.1 L803.5,228.2 L805.5,227.2 L807.5,226.3 L809.5,225.4 L811.5,224.5 L813.5,223.6 L815.5,222.7 L817.5,221.8 L819.5,220.9 L821.5,220.1 L823.5,219.2 L825.5,218.3 L827.5,217.5 L829.5,216.6 L831.5,215.8 L833.5,215.0 L835.5,214.2 L837.5,213.4 L839.5,212.6 L841.5,211.8 L843.5,211.0 L845.5,210.2 L847.5,209.4 L849.5,208.7 L851.5,207.9 L853.5,207.2 L855.5,206.4 L857.5,205.7 L859.5,204.9 L861.5,204.2 L863.5,203.5 L865.5,202.8 L867.5,202.1 L869.5,201.4 L871.5,200.7 L873.5,200.0 L875.5,199.4 L877.5,198.7 L879.5,198.0 L881.5,197.4 L883.5,196.7 L885.5,196.1 L887.5,195.5 L889.5,194.8 L891.5,194.2 L893.5,193.6 L895.5,193.0 L897.5,192.4 L899.5,191.8 L901.5,191.2 L903.5,190.6 L905.5,190.0 L907.5,189.5 L909.5,188.9 L911.5,188.3 L913.5,187.8 L915.5,187.2 L917.5,186.7 L919.5,186.2 L921.5,185.6 L923.5,185.1 L925.5,184.6 L927.5,184.1 L929.5,183.6 L931.5,183.1 L933.5,182.6 L935.5,182.1 L937.5,181.6 L939.5,181.1 L941.5,180.6 L943.5,180.2 L945.5,179.7 L947.5,179.2 L949.5,178.8 L951.5,178.3 L953.5,177.9 L955.5,177.4 L957.5,177.0 L959.5,176.6 L961.5,176.1 L963.5,175.7 L965.5,175.3 L967.5,174.9 L969.5,174.5 L971.5,174.1 L973.5,173.7 L975.5,173.3 L977.5,172.9 L979.5,172.5 L981.5,172.1 L983.5,171.8 L984.9,171.5" stroke="#228833" stroke-width="3.4"/>
<path d="M297.6,733.4 L315.5,705.9 L317.5,702.9 L319.5,699.9 L321.5,697.0 L323.5,694.1 L325.5,691.2 L327.5,688.3 L329.5,685.5 L331.5,682.6 L333.5,679.8 L335.5,677.0 L337.5,674.2 L339.5,671.5 L341.5,668.7 L343.5,665.9 L345.5,663.1 L347.5,660.3 L349.5,657.6 L351.5,654.9 L353.5,652.1 L355.5,649.4 L357.5,646.8 L359.5,644.1 L361.5,641.4 L363.5,638.8 L365.5,636.1 L367.5,633.5 L369.5,630.9 L371.5,628.3 L373.5,625.7 L375.5,623.1 L377.5,620.5 L379.5,617.9 L381.5,615.4 L383.5,612.8 L385.5,610.3 L387.5,607.7 L389.5,605.2 L391.5,602.7 L393.5,600.2 L395.5,597.7 L397.5,595.2 L399.5,592.7 L401.5,590.2 L403.5,587.7 L405.5,585.2 L407.5,582.7 L409.5,580.3 L411.5,577.8 L413.5,575.3 L415.5,572.9 L417.5,570.4 L419.5,567.9 L421.5,565.4 L423.5,563.0 L425.5,560.5 L427.5,558.0 L429.5,555.5 L431.5,553.1 L433.5,550.6 L435.5,548.1 L437.5,545.6 L439.5,543.1 L441.5,540.6 L443.5,538.1 L445.5,535.6 L447.5,533.1 L449.5,530.6 L451.5,528.1 L453.5,525.6 L455.5,523.1 L457.5,520.6 L459.5,518.1 L461.5,515.6 L463.5,513.1 L465.5,510.7 L467.5,508.2 L469.5,505.8 L471.5,503.4 L473.5,500.9 L475.5,498.6 L477.5,496.2 L479.5,493.8 L481.5,491.5 L483.5,489.2 L485.5,486.9 L487.5,484.6 L489.5,482.3 L491.5,480.0 L493.5,477.8 L495.5,475.6 L497.5,473.4 L499.5,471.2 L501.5,469.0 L503.5,466.9 L505.5,464.7 L507.5,462.6 L509.5,460.5 L511.5,458.4 L513.5,456.3 L515.5,454.2 L517.5,452.2 L519.5,450.2 L521.5,448.2 L523.5,446.2 L525.5,444.2 L527.5,442.3 L529.5,440.3 L531.5,438.4 L533.5,436.5 L535.5,434.5 L537.5,432.6 L539.5,430.7 L541.5,428.8 L543.5,427.0 L545.5,425.1 L547.5,423.2 L549.5,421.3 L551.5,419.5 L553.5,417.6 L555.5,415.7 L557.5,413.9 L559.5,412.0 L561.5,410.2 L563.5,408.3 L565.5,406.4 L567.5,404.6 L569.5,402.7 L571.5,400.9 L573.5,399.0 L575.5,397.2 L577.5,395.3 L579.5,393.5 L581.5,391.6 L583.5,389.7 L585.5,387.9 L587.5,386.0 L589.5,384.1 L591.5,382.3 L593.5,380.4 L595.5,378.5 L597.5,376.6 L599.5,374.8 L601.5,372.9 L603.5,371.0 L605.5,369.1 L607.5,367.3 L609.5,365.4 L611.5,363.5 L613.5,361.7 L615.5,359.8 L617.5,358.0 L619.5,356.1 L621.5,354.3 L623.5,352.4 L625.5,350.6 L627.5,348.8 L629.5,347.0 L631.5,345.2 L633.5,343.4 L635.5,341.6 L637.5,339.8 L639.5,338.0 L641.5,336.2 L643.5,334.4 L645.5,332.6 L647.5,330.9 L649.5,329.1 L651.5,327.4 L653.5,325.6 L655.5,323.9 L657.5,322.2 L659.5,320.4 L661.5,318.7 L663.5,317.0 L665.5,315.3 L667.5,313.6 L669.5,311.9 L671.5,310.2 L673.5,308.6 L675.5,306.9 L677.5,305.2 L679.5,303.6 L681.5,301.9 L683.5,300.3 L685.5,298.6 L687.5,297.0 L689.5,295.4 L691.5,293.7 L693.5,292.1 L695.5,290.5 L697.5,288.9 L699.5,287.3 L701.5,285.7 L703.5,284.1 L705.5,282.5 L707.5,280.9 L709.5,279.4 L711.5,277.8 L713.5,276.2 L715.5,274.7 L717.5,273.1 L719.5,271.6 L721.5,270.0 L723.5,268.5 L725.5,266.9 L727.5,265.4 L729.5,263.9 L731.5,262.3 L733.5,260.8 L735.5,259.3 L737.5,257.8 L739.5,256.3 L741.5,254.8 L743.5,253.3 L745.5,251.8 L747.5,250.3 L749.5,248.8 L751.5,247.3 L753.5,245.8 L755.5,244.3 L757.5,242.9 L759.5,241.4 L761.5,239.9 L763.5,238.5 L765.5,237.0 L767.5,235.6 L769.5,234.1 L771.5,232.7 L773.5,231.3 L775.5,229.8 L777.5,228.4 L779.5,227.0 L781.5,225.6 L783.5,224.2 L785.5,222.8 L787.5,221.4 L789.5,220.0 L791.5,218.7 L793.5,217.3 L795.5,215.9 L797.5,214.6 L799.5,213.2 L801.5,211.9 L803.5,210.5 L805.5,209.2 L807.5,207.9 L809.5,206.6 L811.5,205.2 L813.5,203.9 L815.5,202.6 L817.5,201.3 L819.5,200.0 L821.5,198.8 L823.5,197.5 L825.5,196.2 L827.5,194.9 L829.5,193.7 L831.5,192.4 L833.5,191.2 L835.5,189.9 L837.5,188.7 L839.5,187.5 L841.5,186.2 L843.5,185.0 L845.5,183.8 L847.5,182.6 L849.5,181.4 L851.5,180.2 L853.5,179.0 L855.5,177.8 L857.5,176.7 L859.5,175.5 L861.5,174.3 L863.5,173.2 L865.5,172.0 L867.5,170.9 L869.5,169.7 L871.5,168.6 L873.5,167.5 L875.5,166.4 L877.5,165.2 L879.5,164.1 L881.5,163.0 L883.5,161.9 L885.5,160.8 L887.5,159.8 L889.5,158.7 L891.5,157.6 L893.5,156.5 L895.5,155.5 L897.5,154.4 L899.5,153.4 L901.5,152.3 L903.5,151.3 L905.5,150.3 L907.5,149.2 L909.5,148.2 L911.5,147.2 L913.5,146.2 L915.5,145.2 L917.5,144.2 L919.5,143.2 L921.5,142.2 L923.5,141.3 L925.5,140.3 L927.5,139.3 L929.5,138.4 L931.5,137.5 L933.5,136.5 L935.5,135.6 L937.5,134.7 L939.5,133.8 L941.5,132.8 L943.5,131.9 L945.5,131.1 L947.5,130.2 L949.5,129.3 L951.5,128.4 L953.5,127.6 L955.5,126.7 L957.5,125.9 L959.5,125.0 L961.5,124.2 L963.5,123.4 L965.5,122.6 L967.5,121.8 L969.5,121.0 L971.5,120.2 L973.5,119.4 L975.5,118.6 L977.5,117.8 L979.5,117.1 L981.5,116.3 L983.5,115.6 L984.9,115.1" stroke="#000000" stroke-width="5.8"/>
<path d="M305.3,730.6 L307.3,728.0 L309.3,725.4 L311.3,722.8 L313.3,720.3 L315.3,717.8 L317.3,715.3 L319.3,712.9 L321.3,710.4 L323.3,708.1 L325.3,705.7 L327.3,703.4 L329.3,701.1 L331.3,698.8 L333.3,696.5 L335.3,694.3 L337.3,692.0 L339.3,689.8 L341.3,687.6 L343.3,685.4 L345.3,683.2 L347.3,681.0 L349.3,678.8 L351.3,676.6 L353.3,674.5 L355.3,672.3 L357.3,670.2 L359.3,668.1 L361.3,665.9 L363.3,663.8 L365.3,661.7 L367.3,659.6 L369.3,657.5 L371.3,655.3 L373.3,653.2 L375.3,651.0 L377.3,648.8 L379.3,646.6 L381.3,644.4 L383.3,642.1 L385.3,639.8 L387.3,637.5 L389.3,635.2 L391.3,632.8 L393.3,630.4 L395.3,628.0 L397.3,625.5 L399.3,623.0 L401.3,620.5 L403.3,617.9 L405.3,615.4 L407.3,612.8 L409.3,610.2 L411.3,607.5 L413.3,604.9 L415.3,602.2 L417.3,599.5 L419.3,596.8 L421.3,594.0 L423.3,591.3 L425.3,588.5 L427.3,585.7 L429.3,582.9 L431.3,580.1 L433.3,577.2 L435.3,574.4 L437.3,571.5 L439.3,568.6 L441.3,565.7 L443.3,562.8 L445.3,559.9 L447.3,557.0 L449.3,554.0 L451.3,551.1 L453.3,548.1 L455.3,545.1 L457.3,542.1 L459.3,539.1 L461.3,536.1 L463.3,533.1 L465.3,530.0 L467.3,527.0 L469.3,524.0 L471.3,521.0 L473.3,518.1 L475.3,515.2 L477.3,512.2 L479.3,509.3 L481.3,506.5 L483.3,503.6 L485.3,500.8 L487.3,498.0 L489.3,495.2 L491.3,492.4 L493.3,489.7 L495.3,487.0 L497.3,484.3 L499.3,481.6 L501.3,479.0 L503.3,476.4 L505.3,473.8 L507.3,471.2 L509.3,468.7 L511.3,466.1 L513.3,463.7 L515.3,461.2 L517.3,458.8 L519.3,456.4 L521.3,454.0 L523.3,451.6 L525.3,449.3 L527.3,446.9 L529.3,444.6 L531.3,442.3 L533.3,440.0 L535.3,437.8 L537.3,435.5 L539.3,433.3 L541.3,431.1 L543.3,428.8 L545.3,426.6 L547.3,424.4 L549.3,422.3 L551.3,420.1 L553.3,417.9 L555.3,415.8 L557.3,413.6 L559.3,411.5 L561.3,409.3 L563.3,407.2 L565.3,405.1 L567.3,403.0 L569.3,400.9 L571.3,398.8 L573.3,396.7 L575.3,394.7 L577.3,392.6 L579.3,390.5 L581.3,388.5 L583.3,386.4 L585.3,384.4 L587.3,382.4 L589.3,380.4 L591.3,378.4 L593.3,376.3 L595.3,374.3 L597.3,372.4 L599.3,370.4 L601.3,368.4 L603.3,366.4 L605.3,364.5 L607.3,362.5 L609.3,360.6 L611.3,358.6 L613.3,356.7 L615.3,354.8 L617.3,352.9 L619.3,351.0 L621.3,349.2 L623.3,347.3 L625.3,345.4 L627.3,343.6 L629.3,341.8 L631.3,339.9 L633.3,338.1 L635.3,336.3 L637.3,334.5 L639.3,332.7 L641.3,331.0 L643.3,329.2 L645.3,327.4 L647.3,325.7 L649.3,324.0 L651.3,322.2 L653.3,320.5 L655.3,318.8 L657.3,317.1 L659.3,315.4 L661.3,313.7 L663.3,312.1 L665.3,310.4 L667.3,308.8 L669.3,307.1 L671.3,305.5 L673.3,303.8 L675.3,302.2 L677.3,300.6 L679.3,299.0 L681.3,297.4 L683.3,295.8 L685.3,294.2 L687.3,292.7 L689.3,291.1 L691.3,289.6 L693.3,288.0 L695.3,286.5 L697.3,284.9 L699.3,283.4 L701.3,281.9 L703.3,280.4 L705.3,278.9 L707.3,277.4 L709.3,275.9 L711.3,274.4 L713.3,272.9 L715.3,271.5 L717.3,270.0 L719.3,268.6 L721.3,267.1 L723.3,265.7 L725.3,264.2 L727.3,262.8 L729.3,261.4 L731.3,260.0 L733.3,258.6 L735.3,257.2 L737.3,255.8 L739.3,254.4 L741.3,253.0 L743.3,251.6 L745.3,250.3 L747.3,248.9 L749.3,247.6 L751.3,246.2 L753.3,244.9 L755.3,243.6 L757.3,242.2 L759.3,240.9 L761.3,239.6 L763.3,238.3 L765.3,237.1 L767.3,235.8 L769.3,234.5 L771.3,233.2 L773.3,232.0 L775.3,230.7 L777.3,229.5 L779.3,228.3 L781.3,227.1 L783.3,225.9 L785.3,224.6 L787.3,223.5 L789.3,222.3 L791.3,221.1 L793.3,219.9 L795.3,218.8 L797.3,217.6 L799.3,216.5 L801.3,215.3 L803.3,214.2 L805.3,213.1 L807.3,211.9 L809.3,210.8 L811.3,209.7 L813.3,208.6 L815.3,207.6 L817.3,206.5 L819.3,205.4 L821.3,204.4 L823.3,203.3 L825.3,202.3 L827.3,201.2 L829.3,200.2 L831.3,199.2 L833.3,198.1 L835.3,197.1 L837.3,196.1 L839.3,195.1 L841.3,194.1 L843.3,193.2 L845.3,192.2 L847.3,191.2 L849.3,190.3 L851.3,189.3 L853.3,188.4 L855.3,187.4 L857.3,186.5 L859.3,185.6 L861.3,184.7 L863.3,183.8 L865.3,182.9 L867.3,182.0 L869.3,181.1 L871.3,180.2 L873.3,179.3 L875.3,178.5 L877.3,177.6 L879.3,176.7 L881.3,175.9 L883.3,175.1 L885.3,174.2 L887.3,173.4 L889.3,172.6 L891.3,171.8 L893.3,171.0 L895.3,170.2 L897.3,169.4 L899.3,168.6 L901.3,167.8 L903.3,167.0 L905.3,166.3 L907.3,165.5 L909.3,164.7 L911.3,164.0 L913.3,163.2 L915.3,162.5 L917.3,161.8 L919.3,161.1 L921.3,160.3 L923.3,159.6 L925.3,158.9 L927.3,158.2 L929.3,157.5 L931.3,156.8 L933.3,156.1 L935.3,155.5 L937.3,154.8 L939.3,154.1 L941.3,153.5 L943.3,152.8 L945.3,152.2 L947.3,151.5 L949.3,150.9 L951.3,150.3 L953.3,149.6 L955.3,149.0 L957.3,148.4 L959.3,147.8 L961.3,147.2 L963.3,146.6 L965.3,146.0 L967.3,145.4 L969.3,144.9 L971.3,144.3 L973.3,143.7 L975.3,143.1 L977.3,142.6 L979.3,142.0 L981.3,141.5 L983.3,140.9 L984.9,140.5" stroke="#ccbb44" stroke-width="5.8"/>
<path d="M297.6,721.2 L315.5,693.5 L317.5,690.6 L319.5,687.6 L321.5,684.6 L323.5,681.7 L325.5,678.7 L327.5,675.8 L329.5,672.9 L331.5,670.1 L333.5,667.2 L335.5,664.4 L337.5,661.5 L339.5,658.7 L341.5,655.9 L343.5,653.1 L345.5,650.3 L347.5,647.6 L349.5,644.8 L351.5,642.1 L353.5,639.3 L355.5,636.6 L357.5,633.9 L359.5,631.2 L361.5,628.6 L363.5,625.9 L365.5,623.2 L367.5,620.6 L369.5,618.0 L371.5,615.3 L373.5,612.7 L375.5,610.1 L377.5,607.5 L379.5,604.8 L381.5,602.2 L383.5,599.6 L385.5,597.0 L387.5,594.4 L389.5,591.8 L391.5,589.1 L393.5,586.5 L395.5,583.9 L397.5,581.2 L399.5,578.6 L401.5,576.0 L403.5,573.3 L405.5,570.7 L407.5,568.0 L409.5,565.4 L411.5,562.7 L413.5,560.1 L415.5,557.4 L417.5,554.7 L419.5,552.1 L421.5,549.4 L423.5,546.7 L425.5,544.0 L427.5,541.4 L429.5,538.7 L431.5,536.0 L433.5,533.3 L435.5,530.6 L437.5,527.9 L439.5,525.2 L441.5,522.4 L443.5,519.7 L445.5,517.0 L447.5,514.3 L449.5,511.6 L451.5,508.8 L453.5,506.1 L455.5,503.4 L457.5,500.7 L459.5,498.0 L461.5,495.3 L463.5,492.7 L465.5,490.0 L467.5,487.4 L469.5,484.7 L471.5,482.1 L473.5,479.5 L475.5,476.9 L477.5,474.3 L479.5,471.8 L481.5,469.3 L483.5,466.8 L485.5,464.3 L487.5,461.8 L489.5,459.4 L491.5,457.0 L493.5,454.6 L495.5,452.3 L497.5,449.9 L499.5,447.6 L501.5,445.3 L503.5,443.1 L505.5,440.8 L507.5,438.6 L509.5,436.4 L511.5,434.2 L513.5,432.1 L515.5,430.0 L517.5,427.9 L519.5,425.8 L521.5,423.7 L523.5,421.7 L525.5,419.6 L527.5,417.6 L529.5,415.6 L531.5,413.7 L533.5,411.7 L535.5,409.8 L537.5,407.8 L539.5,405.9 L541.5,404.0 L543.5,402.1 L545.5,400.3 L547.5,398.4 L549.5,396.6 L551.5,394.7 L553.5,392.9 L555.5,391.1 L557.5,389.3 L559.5,387.5 L561.5,385.7 L563.5,383.9 L565.5,382.2 L567.5,380.4 L569.5,378.6 L571.5,376.9 L573.5,375.1 L575.5,373.4 L577.5,371.6 L579.5,369.9 L581.5,368.2 L583.5,366.5 L585.5,364.8 L587.5,363.1 L589.5,361.4 L591.5,359.7 L593.5,358.0 L595.5,356.3 L597.5,354.6 L599.5,353.0 L601.5,351.3 L603.5,349.7 L605.5,348.1 L607.5,346.4 L609.5,344.8 L611.5,343.2 L613.5,341.6 L615.5,340.0 L617.5,338.4 L619.5,336.9 L621.5,335.3 L623.5,333.8 L625.5,332.2 L627.5,330.7 L629.5,329.2 L631.5,327.6 L633.5,326.1 L635.5,324.6 L637.5,323.1 L639.5,321.6 L641.5,320.2 L643.5,318.7 L645.5,317.2 L647.5,315.8 L649.5,314.3 L651.5,312.9 L653.5,311.4 L655.5,310.0 L657.5,308.5 L659.5,307.1 L661.5,305.7 L663.5,304.3 L665.5,302.9 L667.5,301.5 L669.5,300.1 L671.5,298.7 L673.5,297.3 L675.5,295.9 L677.5,294.6 L679.5,293.2 L681.5,291.8 L683.5,290.5 L685.5,289.1 L687.5,287.8 L689.5,286.4 L691.5,285.1 L693.5,283.7 L695.5,282.4 L697.5,281.1 L699.5,279.7 L701.5,278.4 L703.5,277.1 L705.5,275.8 L707.5,274.4 L709.5,273.1 L711.5,271.8 L713.5,270.5 L715.5,269.2 L717.5,267.8 L719.5,266.5 L721.5,265.2 L723.5,263.9 L725.5,262.6 L727.5,261.3 L729.5,260.0 L731.5,258.7 L733.5,257.3 L735.5,256.0 L737.5,254.7 L739.5,253.4 L741.5,252.1 L743.5,250.8 L745.5,249.5 L747.5,248.2 L749.5,246.9 L751.5,245.6 L753.5,244.4 L755.5,243.1 L757.5,241.8 L759.5,240.5 L761.5,239.2 L763.5,237.9 L765.5,236.7 L767.5,235.4 L769.5,234.1 L771.5,232.9 L773.5,231.6 L775.5,230.4 L777.5,229.1 L779.5,227.9 L781.5,226.7 L783.5,225.4 L785.5,224.2 L787.5,223.0 L789.5,221.8 L791.5,220.6 L793.5,219.4 L795.5,218.2 L797.5,217.0 L799.5,215.8 L801.5,214.6 L803.5,213.5 L805.5,212.3 L807.5,211.2 L809.5,210.0 L811.5,208.9 L813.5,207.7 L815.5,206.6 L817.5,205.5 L819.5,204.3 L821.5,203.2 L823.5,202.1 L825.5,201.0 L827.5,199.9 L829.5,198.8 L831.5,197.8 L833.5,196.7 L835.5,195.6 L837.5,194.5 L839.5,193.5 L841.5,192.4 L843.5,191.4 L845.5,190.3 L847.5,189.3 L849.5,188.3 L851.5,187.3 L853.5,186.2 L855.5,185.2 L857.5,184.2 L859.5,183.2 L861.5,182.2 L863.5,181.2 L865.5,180.3 L867.5,179.3 L869.5,178.3 L871.5,177.3 L873.5,176.4 L875.5,175.4 L877.5,174.5 L879.5,173.5 L881.5,172.6 L883.5,171.7 L885.5,170.7 L887.5,169.8 L889.5,168.9 L891.5,168.0 L893.5,167.1 L895.5,166.2 L897.5,165.3 L899.5,164.4 L901.5,163.5 L903.5,162.7 L905.5,161.8 L907.5,160.9 L909.5,160.1 L911.5,159.2 L913.5,158.4 L915.5,157.5 L917.5,156.7 L919.5,155.9 L921.5,155.0 L923.5,154.2 L925.5,153.4 L927.5,152.6 L929.5,151.8 L931.5,151.0 L933.5,150.2 L935.5,149.4 L937.5,148.6 L939.5,147.8 L941.5,147.0 L943.5,146.3 L945.5,145.5 L947.5,144.7 L949.5,144.0 L951.5,143.2 L953.5,142.5 L955.5,141.7 L957.5,141.0 L959.5,140.3 L961.5,139.6 L963.5,138.8 L965.5,138.1 L967.5,137.4 L969.5,136.7 L971.5,136.0 L973.5,135.3 L975.5,134.6 L977.5,133.9 L979.5,133.3 L981.5,132.6 L983.5,131.9 L984.9,131.4" stroke="#009988" stroke-width="5.6" stroke-dasharray="19.98 8.64" stroke-dashoffset="3.59"/>
<path d="M297.6,716.5 L313.0,692.5 L315.0,689.3 L317.0,686.2 L319.0,683.0 L321.0,679.9 L323.0,676.8 L325.0,673.6 L327.0,670.5 L329.0,667.4 L331.0,664.3 L333.0,661.2 L335.0,658.1 L337.0,655.0 L339.0,652.0 L341.0,648.9 L343.0,645.9 L345.0,642.8 L347.0,639.8 L349.0,636.8 L351.0,633.8 L353.0,630.9 L355.0,627.9 L357.0,625.0 L359.0,622.1 L361.0,619.2 L363.0,616.3 L365.0,613.4 L367.0,610.6 L369.0,607.8 L371.0,604.9 L373.0,602.1 L375.0,599.3 L377.0,596.6 L379.0,593.8 L381.0,591.1 L383.0,588.3 L385.0,585.6 L387.0,582.9 L389.0,580.2 L391.0,577.5 L393.0,574.9 L395.0,572.2 L397.0,569.6 L399.0,566.9 L401.0,564.3 L403.0,561.7 L405.0,559.1 L407.0,556.5 L409.0,554.0 L411.0,551.4 L413.0,548.8 L415.0,546.3 L417.0,543.7 L419.0,541.2 L421.0,538.7 L423.0,536.2 L425.0,533.7 L427.0,531.2 L429.0,528.7 L431.0,526.2 L433.0,523.8 L435.0,521.3 L437.0,518.9 L439.0,516.5 L441.0,514.0 L443.0,511.6 L445.0,509.3 L447.0,506.9 L449.0,504.6 L451.0,502.2 L453.0,499.9 L455.0,497.6 L457.0,495.4 L459.0,493.1 L461.0,490.9 L463.0,488.7 L465.0,486.5 L467.0,484.4 L469.0,482.2 L471.0,480.1 L473.0,477.9 L475.0,475.8 L477.0,473.7 L479.0,471.6 L481.0,469.6 L483.0,467.5 L485.0,465.5 L487.0,463.5 L489.0,461.5 L491.0,459.5 L493.0,457.5 L495.0,455.6 L497.0,453.7 L499.0,451.8 L501.0,449.9 L503.0,448.0 L505.0,446.1 L507.0,444.3 L509.0,442.5 L511.0,440.6 L513.0,438.9 L515.0,437.1 L517.0,435.3 L519.0,433.6 L521.0,431.9 L523.0,430.2 L525.0,428.5 L527.0,426.8 L529.0,425.1 L531.0,423.5 L533.0,421.8 L535.0,420.2 L537.0,418.6 L539.0,417.0 L541.0,415.3 L543.0,413.7 L545.0,412.1 L547.0,410.5 L549.0,408.9 L551.0,407.3 L553.0,405.8 L555.0,404.2 L557.0,402.6 L559.0,401.0 L561.0,399.4 L563.0,397.8 L565.0,396.2 L567.0,394.6 L569.0,393.0 L571.0,391.3 L573.0,389.7 L575.0,388.1 L577.0,386.4 L579.0,384.8 L581.0,383.1 L583.0,381.4 L585.0,379.7 L587.0,378.0 L589.0,376.3 L591.0,374.5 L593.0,372.8 L595.0,371.0 L597.0,369.2 L599.0,367.5 L601.0,365.7 L603.0,363.9 L605.0,362.0 L607.0,360.2 L609.0,358.4 L611.0,356.6 L613.0,354.8 L615.0,352.9 L617.0,351.1 L619.0,349.3 L621.0,347.4 L623.0,345.6 L625.0,343.8 L627.0,341.9 L629.0,340.1 L631.0,338.3 L633.0,336.4 L635.0,334.6 L637.0,332.8 L639.0,331.0 L641.0,329.2 L643.0,327.4 L645.0,325.5 L647.0,323.8 L649.0,322.0 L651.0,320.2 L653.0,318.4 L655.0,316.6 L657.0,314.9 L659.0,313.1 L661.0,311.4 L663.0,309.6 L665.0,307.9 L667.0,306.2 L669.0,304.5 L671.0,302.8 L673.0,301.1 L675.0,299.5 L677.0,297.8 L679.0,296.1 L681.0,294.5 L683.0,292.8 L685.0,291.2 L687.0,289.6 L689.0,288.0 L691.0,286.4 L693.0,284.8 L695.0,283.2 L697.0,281.6 L699.0,280.1 L701.0,278.5 L703.0,276.9 L705.0,275.4 L707.0,273.9 L709.0,272.3 L711.0,270.8 L713.0,269.3 L715.0,267.8 L717.0,266.3 L719.0,264.9 L721.0,263.4 L723.0,261.9 L725.0,260.5 L727.0,259.0 L729.0,257.6 L731.0,256.1 L733.0,254.7 L735.0,253.3 L737.0,251.9 L739.0,250.5 L741.0,249.1 L743.0,247.7 L745.0,246.4 L747.0,245.0 L749.0,243.6 L751.0,242.3 L753.0,240.9 L755.0,239.6 L757.0,238.3 L759.0,237.0 L761.0,235.6 L763.0,234.3 L765.0,233.0 L767.0,231.7 L769.0,230.5 L771.0,229.2 L773.0,227.9 L775.0,226.7 L777.0,225.4 L779.0,224.2 L781.0,222.9 L783.0,221.7 L785.0,220.5 L787.0,219.3 L789.0,218.1 L791.0,216.9 L793.0,215.7 L795.0,214.5 L797.0,213.3 L799.0,212.1 L801.0,211.0 L803.0,209.8 L805.0,208.6 L807.0,207.5 L809.0,206.4 L811.0,205.2 L813.0,204.1 L815.0,203.0 L817.0,201.9 L819.0,200.8 L821.0,199.7 L823.0,198.6 L825.0,197.5 L827.0,196.4 L829.0,195.3 L831.0,194.3 L833.0,193.2 L835.0,192.2 L837.0,191.1 L839.0,190.1 L841.0,189.0 L843.0,188.0 L845.0,187.0 L847.0,186.0 L849.0,185.0 L851.0,183.9 L853.0,183.0 L855.0,182.0 L857.0,181.0 L859.0,180.0 L861.0,179.0 L863.0,178.0 L865.0,177.1 L867.0,176.1 L869.0,175.2 L871.0,174.2 L873.0,173.3 L875.0,172.4 L877.0,171.4 L879.0,170.5 L881.0,169.6 L883.0,168.7 L885.0,167.8 L887.0,166.9 L889.0,166.0 L891.0,165.1 L893.0,164.2 L895.0,163.3 L897.0,162.4 L899.0,161.5 L901.0,160.7 L903.0,159.8 L905.0,159.0 L907.0,158.1 L909.0,157.3 L911.0,156.4 L913.0,155.6 L915.0,154.8 L917.0,153.9 L919.0,153.1 L921.0,152.3 L923.0,151.5 L925.0,150.7 L927.0,149.9 L929.0,149.1 L931.0,148.3 L933.0,147.5 L935.0,146.7 L937.0,145.9 L939.0,145.1 L941.0,144.4 L943.0,143.6 L945.0,142.8 L947.0,142.1 L949.0,141.3 L951.0,140.6 L953.0,139.8 L955.0,139.1 L957.0,138.3 L959.0,137.6 L961.0,136.9 L963.0,136.2 L965.0,135.4 L967.0,134.7 L969.0,134.0 L971.0,133.3 L973.0,132.6 L975.0,131.9 L977.0,131.2 L979.0,130.5 L981.0,129.8 L983.0,129.1 L984.9,128.4" stroke="#66ccee" stroke-width="5.6" stroke-dasharray="19.98 8.64" stroke-dashoffset="5.35"/>
<path d="M302.7,708.9 L304.7,705.8 L306.7,702.7 L308.7,699.6 L310.7,696.5 L312.7,693.5 L314.7,690.5 L316.7,687.5 L318.7,684.5 L320.7,681.6 L322.7,678.6 L324.7,675.7 L326.7,672.8 L328.7,669.9 L330.7,667.1 L332.7,664.2 L334.7,661.4 L336.7,658.6 L338.7,655.8 L340.7,653.0 L342.7,650.2 L344.7,647.4 L346.7,644.6 L348.7,641.8 L350.7,639.1 L352.7,636.3 L354.7,633.6 L356.7,630.8 L358.7,628.1 L360.7,625.4 L362.7,622.7 L364.7,620.0 L366.7,617.3 L368.7,614.6 L370.7,611.9 L372.7,609.2 L374.7,606.5 L376.7,603.9 L378.7,601.2 L380.7,598.5 L382.7,595.8 L384.7,593.1 L386.7,590.4 L388.7,587.8 L390.7,585.1 L392.7,582.4 L394.7,579.7 L396.7,577.0 L398.7,574.3 L400.7,571.6 L402.7,568.9 L404.7,566.2 L406.7,563.5 L408.7,560.8 L410.7,558.1 L412.7,555.4 L414.7,552.7 L416.7,550.0 L418.7,547.3 L420.7,544.6 L422.7,541.9 L424.7,539.2 L426.7,536.5 L428.7,533.8 L430.7,531.2 L432.7,528.5 L434.7,525.8 L436.7,523.2 L438.7,520.6 L440.7,517.9 L442.7,515.3 L444.7,512.7 L446.7,510.2 L448.7,507.6 L450.7,505.1 L452.7,502.5 L454.7,500.0 L456.7,497.5 L458.7,495.0 L460.7,492.6 L462.7,490.1 L464.7,487.7 L466.7,485.3 L468.7,482.9 L470.7,480.5 L472.7,478.1 L474.7,475.8 L476.7,473.4 L478.7,471.1 L480.7,468.8 L482.7,466.6 L484.7,464.3 L486.7,462.1 L488.7,459.9 L490.7,457.7 L492.7,455.6 L494.7,453.5 L496.7,451.4 L498.7,449.3 L500.7,447.3 L502.7,445.3 L504.7,443.3 L506.7,441.3 L508.7,439.4 L510.7,437.5 L512.7,435.6 L514.7,433.8 L516.7,431.9 L518.7,430.1 L520.7,428.3 L522.7,426.5 L524.7,424.8 L526.7,423.0 L528.7,421.3 L530.7,419.6 L532.7,417.9 L534.7,416.2 L536.7,414.5 L538.7,412.8 L540.7,411.2 L542.7,409.5 L544.7,407.9 L546.7,406.3 L548.7,404.7 L550.7,403.0 L552.7,401.4 L554.7,399.8 L556.7,398.2 L558.7,396.6 L560.7,395.0 L562.7,393.4 L564.7,391.8 L566.7,390.2 L568.7,388.6 L570.7,387.0 L572.7,385.4 L574.7,383.8 L576.7,382.2 L578.7,380.6 L580.7,379.0 L582.7,377.3 L584.7,375.7 L586.7,374.1 L588.7,372.5 L590.7,370.9 L592.7,369.3 L594.7,367.7 L596.7,366.1 L598.7,364.4 L600.7,362.8 L602.7,361.2 L604.7,359.6 L606.7,358.0 L608.7,356.4 L610.7,354.8 L612.7,353.2 L614.7,351.5 L616.7,349.9 L618.7,348.3 L620.7,346.7 L622.7,345.1 L624.7,343.5 L626.7,341.9 L628.7,340.3 L630.7,338.7 L632.7,337.1 L634.7,335.4 L636.7,333.8 L638.7,332.2 L640.7,330.6 L642.7,329.0 L644.7,327.4 L646.7,325.7 L648.7,324.1 L650.7,322.5 L652.7,320.8 L654.7,319.2 L656.7,317.6 L658.7,316.0 L660.7,314.3 L662.7,312.7 L664.7,311.1 L666.7,309.5 L668.7,307.8 L670.7,306.2 L672.7,304.6 L674.7,303.0 L676.7,301.4 L678.7,299.8 L680.7,298.2 L682.7,296.6 L684.7,295.0 L686.7,293.4 L688.7,291.8 L690.7,290.2 L692.7,288.7 L694.7,287.1 L696.7,285.5 L698.7,284.0 L700.7,282.4 L702.7,280.9 L704.7,279.3 L706.7,277.8 L708.7,276.3 L710.7,274.7 L712.7,273.2 L714.7,271.7 L716.7,270.2 L718.7,268.7 L720.7,267.2 L722.7,265.8 L724.7,264.3 L726.7,262.8 L728.7,261.4 L730.7,259.9 L732.7,258.5 L734.7,257.0 L736.7,255.6 L738.7,254.2 L740.7,252.7 L742.7,251.3 L744.7,249.9 L746.7,248.5 L748.7,247.1 L750.7,245.8 L752.7,244.4 L754.7,243.0 L756.7,241.6 L758.7,240.3 L760.7,238.9 L762.7,237.6 L764.7,236.2 L766.7,234.9 L768.7,233.6 L770.7,232.3 L772.7,231.0 L774.7,229.7 L776.7,228.4 L778.7,227.1 L780.7,225.8 L782.7,224.5 L784.7,223.3 L786.7,222.0 L788.7,220.8 L790.7,219.5 L792.7,218.3 L794.7,217.1 L796.7,215.8 L798.7,214.6 L800.7,213.4 L802.7,212.2 L804.7,211.0 L806.7,209.9 L808.7,208.7 L810.7,207.5 L812.7,206.4 L814.7,205.2 L816.7,204.1 L818.7,202.9 L820.7,201.8 L822.7,200.7 L824.7,199.5 L826.7,198.4 L828.7,197.3 L830.7,196.2 L832.7,195.2 L834.7,194.1 L836.7,193.0 L838.7,191.9 L840.7,190.9 L842.7,189.8 L844.7,188.8 L846.7,187.7 L848.7,186.7 L850.7,185.7 L852.7,184.6 L854.7,183.6 L856.7,182.6 L858.7,181.6 L860.7,180.6 L862.7,179.6 L864.7,178.6 L866.7,177.7 L868.7,176.7 L870.7,175.7 L872.7,174.8 L874.7,173.8 L876.7,172.9 L878.7,171.9 L880.7,171.0 L882.7,170.1 L884.7,169.1 L886.7,168.2 L888.7,167.3 L890.7,166.4 L892.7,165.5 L894.7,164.6 L896.7,163.7 L898.7,162.8 L900.7,162.0 L902.7,161.1 L904.7,160.2 L906.7,159.4 L908.7,158.5 L910.7,157.6 L912.7,156.8 L914.7,156.0 L916.7,155.1 L918.7,154.3 L920.7,153.5 L922.7,152.7 L924.7,151.8 L926.7,151.0 L928.7,150.2 L930.7,149.4 L932.7,148.6 L934.7,147.9 L936.7,147.1 L938.7,146.3 L940.7,145.5 L942.7,144.8 L944.7,144.0 L946.7,143.2 L948.7,142.5 L950.7,141.7 L952.7,141.0 L954.7,140.2 L956.7,139.5 L958.7,138.8 L960.7,138.0 L962.7,137.3 L964.7,136.6 L966.7,135.9 L968.7,135.2 L970.7,134.5 L972.7,133.8 L974.7,133.1 L976.7,132.4 L978.7,131.7 L980.7,131.0 L982.7,130.3 L984.7,129.6 L984.9,129.6" stroke="#bbbbbb" stroke-width="5.6" stroke-dasharray="19.98 8.64" stroke-dashoffset="14.28"/>
<path d="M300.0,697.3 L302.0,694.0 L304.0,690.8 L306.0,687.6 L308.0,684.4 L310.0,681.3 L312.0,678.2 L314.0,675.2 L316.0,672.2 L318.0,669.2 L320.0,666.2 L322.0,663.3 L324.0,660.4 L326.0,657.6 L328.0,654.8 L330.0,652.0 L332.0,649.2 L334.0,646.5 L336.0,643.8 L338.0,641.1 L340.0,638.5 L342.0,635.9 L344.0,633.3 L346.0,630.7 L348.0,628.2 L350.0,625.7 L352.0,623.2 L354.0,620.7 L356.0,618.3 L358.0,615.9 L360.0,613.5 L362.0,611.1 L364.0,608.7 L366.0,606.4 L368.0,604.1 L370.0,601.8 L372.0,599.5 L374.0,597.3 L376.0,595.0 L378.0,592.8 L380.0,590.6 L382.0,588.4 L384.0,586.2 L386.0,584.0 L388.0,581.9 L390.0,579.7 L392.0,577.6 L394.0,575.5 L396.0,573.4 L398.0,571.3 L400.0,569.2 L402.0,567.1 L404.0,565.0 L406.0,563.0 L408.0,560.9 L410.0,558.9 L412.0,556.8 L414.0,554.8 L416.0,552.8 L418.0,550.8 L420.0,548.7 L422.0,546.7 L424.0,544.7 L426.0,542.7 L428.0,540.7 L430.0,538.7 L432.0,536.7 L434.0,534.7 L436.0,532.7 L438.0,530.7 L440.0,528.7 L442.0,526.7 L444.0,524.7 L446.0,522.7 L448.0,520.7 L450.0,518.7 L452.0,516.7 L454.0,514.7 L456.0,512.6 L458.0,510.6 L460.0,508.6 L462.0,506.6 L464.0,504.5 L466.0,502.5 L468.0,500.4 L470.0,498.4 L472.0,496.3 L474.0,494.3 L476.0,492.2 L478.0,490.1 L480.0,488.1 L482.0,486.0 L484.0,483.9 L486.0,481.8 L488.0,479.7 L490.0,477.6 L492.0,475.5 L494.0,473.4 L496.0,471.3 L498.0,469.1 L500.0,467.0 L502.0,464.9 L504.0,462.7 L506.0,460.6 L508.0,458.4 L510.0,456.2 L512.0,454.1 L514.0,451.9 L516.0,449.7 L518.0,447.6 L520.0,445.4 L522.0,443.2 L524.0,441.0 L526.0,438.8 L528.0,436.6 L530.0,434.4 L532.0,432.3 L534.0,430.1 L536.0,427.9 L538.0,425.7 L540.0,423.5 L542.0,421.3 L544.0,419.1 L546.0,416.9 L548.0,414.7 L550.0,412.5 L552.0,410.3 L554.0,408.2 L556.0,406.0 L558.0,403.8 L560.0,401.6 L562.0,399.5 L564.0,397.3 L566.0,395.1 L568.0,393.0 L570.0,390.8 L572.0,388.7 L574.0,386.5 L576.0,384.4 L578.0,382.3 L580.0,380.1 L582.0,378.0 L584.0,375.9 L586.0,373.8 L588.0,371.7 L590.0,369.7 L592.0,367.6 L594.0,365.5 L596.0,363.5 L598.0,361.4 L600.0,359.4 L602.0,357.4 L604.0,355.4 L606.0,353.4 L608.0,351.4 L610.0,349.4 L612.0,347.4 L614.0,345.5 L616.0,343.5 L618.0,341.6 L620.0,339.7 L622.0,337.8 L624.0,335.9 L626.0,334.1 L628.0,332.2 L630.0,330.3 L632.0,328.5 L634.0,326.7 L636.0,324.9 L638.0,323.1 L640.0,321.3 L642.0,319.5 L644.0,317.8 L646.0,316.0 L648.0,314.3 L650.0,312.6 L652.0,310.9 L654.0,309.2 L656.0,307.5 L658.0,305.8 L660.0,304.2 L662.0,302.5 L664.0,300.9 L666.0,299.3 L668.0,297.7 L670.0,296.1 L672.0,294.5 L674.0,292.9 L676.0,291.3 L678.0,289.8 L680.0,288.2 L682.0,286.7 L684.0,285.2 L686.0,283.7 L688.0,282.2 L690.0,280.7 L692.0,279.2 L694.0,277.7 L696.0,276.3 L698.0,274.8 L700.0,273.4 L702.0,271.9 L704.0,270.5 L706.0,269.1 L708.0,267.7 L710.0,266.3 L712.0,264.9 L714.0,263.5 L716.0,262.1 L718.0,260.8 L720.0,259.4 L722.0,258.0 L724.0,256.7 L726.0,255.3 L728.0,254.0 L730.0,252.7 L732.0,251.3 L734.0,250.0 L736.0,248.7 L738.0,247.4 L740.0,246.1 L742.0,244.8 L744.0,243.5 L746.0,242.2 L748.0,240.9 L750.0,239.6 L752.0,238.4 L754.0,237.1 L756.0,235.8 L758.0,234.6 L760.0,233.3 L762.0,232.1 L764.0,230.9 L766.0,229.6 L768.0,228.4 L770.0,227.2 L772.0,226.0 L774.0,224.8 L776.0,223.5 L778.0,222.3 L780.0,221.2 L782.0,220.0 L784.0,218.8 L786.0,217.6 L788.0,216.4 L790.0,215.3 L792.0,214.1 L794.0,212.9 L796.0,211.8 L798.0,210.7 L800.0,209.5 L802.0,208.4 L804.0,207.2 L806.0,206.1 L808.0,205.0 L810.0,203.9 L812.0,202.8 L814.0,201.7 L816.0,200.6 L818.0,199.5 L820.0,198.4 L822.0,197.3 L824.0,196.3 L826.0,195.2 L828.0,194.1 L830.0,193.1 L832.0,192.0 L834.0,191.0 L836.0,189.9 L838.0,188.9 L840.0,187.8 L842.0,186.8 L844.0,185.8 L846.0,184.8 L848.0,183.8 L850.0,182.8 L852.0,181.8 L854.0,180.8 L856.0,179.8 L858.0,178.8 L860.0,177.8 L862.0,176.8 L864.0,175.8 L866.0,174.9 L868.0,173.9 L870.0,173.0 L872.0,172.0 L874.0,171.1 L876.0,170.1 L878.0,169.2 L880.0,168.3 L882.0,167.3 L884.0,166.4 L886.0,165.5 L888.0,164.6 L890.0,163.7 L892.0,162.8 L894.0,161.9 L896.0,161.0 L898.0,160.1 L900.0,159.3 L902.0,158.4 L904.0,157.5 L906.0,156.6 L908.0,155.8 L910.0,154.9 L912.0,154.1 L914.0,153.2 L916.0,152.4 L918.0,151.6 L920.0,150.7 L922.0,149.9 L924.0,149.1 L926.0,148.3 L928.0,147.5 L930.0,146.7 L932.0,145.9 L934.0,145.1 L936.0,144.3 L938.0,143.5 L940.0,142.7 L942.0,142.0 L944.0,141.2 L946.0,140.4 L948.0,139.7 L950.0,138.9 L952.0,138.2 L954.0,137.4 L956.0,136.7 L958.0,135.9 L960.0,135.2 L962.0,134.5 L964.0,133.8 L966.0,133.0 L968.0,132.3 L970.0,131.6 L972.0,130.9 L974.0,130.2 L976.0,129.5 L978.0,128.8 L980.0,128.2 L982.0,127.5 L984.0,126.8" stroke="#ee6677" stroke-width="5.8"/>
</g>
<g clip-path="url(#cb)" fill="none" stroke-linejoin="round">
<path d="M171.0,998.5 L197.0,988.8 L221.2,1003.0 L244.1,1028.0 L262.0,1048.0 L279.8,1064.5 L297.6,1076.9 L315.5,1084.0 L317.5,1084.5 L319.5,1085.0 L321.5,1085.5 L323.5,1085.9 L325.5,1086.3 L327.5,1086.6 L329.5,1086.8 L331.5,1087.0 L333.5,1087.2 L335.5,1087.3 L337.5,1087.3 L339.5,1087.3 L341.5,1087.2 L343.5,1087.1 L345.5,1086.9 L347.5,1086.7 L349.5,1086.4 L351.5,1086.0 L353.5,1085.6 L355.5,1085.1 L357.5,1084.5 L359.5,1083.9 L361.5,1083.2 L363.5,1082.5 L365.5,1081.7 L367.5,1080.8 L369.5,1079.9 L371.5,1078.9 L373.5,1077.8 L375.5,1076.7 L377.5,1075.4 L379.5,1074.2 L381.5,1072.8 L383.5,1071.4 L385.5,1069.9 L387.5,1068.3 L389.5,1066.7 L391.5,1064.9 L393.5,1063.1 L395.5,1061.3 L397.5,1059.3 L399.5,1057.3 L401.5,1055.2 L403.5,1053.0 L405.5,1050.7 L407.5,1048.4 L409.5,1046.0 L411.5,1043.5 L413.5,1041.0 L415.5,1038.5 L417.5,1035.8 L419.5,1033.2 L421.5,1030.5 L423.5,1027.8 L425.5,1025.0 L427.5,1022.2 L429.5,1019.5 L431.5,1016.7 L433.5,1013.9 L435.5,1011.1 L437.5,1008.3 L439.5,1005.5 L441.5,1002.8 L443.5,1000.1 L445.5,997.4 L447.5,994.7 L449.5,992.1 L451.5,989.6 L453.5,987.0 L455.5,984.6 L457.5,982.2 L459.5,979.9 L461.5,977.6 L463.5,975.4 L465.5,973.4 L467.5,971.4 L469.5,969.5 L471.5,967.7 L473.5,966.0 L475.5,964.4 L477.5,962.9 L479.5,961.6 L481.5,960.4 L483.5,959.3 L485.5,958.3 L487.5,957.5 L489.5,956.7 L491.5,956.1 L493.5,955.7 L495.5,955.3 L497.5,955.1 L499.5,955.0 L501.5,955.1 L503.5,955.2 L505.5,955.5 L507.5,955.9 L509.5,956.5 L511.5,957.1 L513.5,957.9 L515.5,958.8 L517.5,959.9 L519.5,961.0 L521.5,962.3 L523.5,963.7 L525.5,965.1 L527.5,966.6 L529.5,968.2 L531.5,969.9 L533.5,971.6 L535.5,973.4 L537.5,975.2 L539.5,977.0 L541.5,978.8 L543.5,980.7 L545.5,982.5 L547.5,984.3 L549.5,986.1 L551.5,987.8 L553.5,989.6 L555.5,991.2 L557.5,992.8 L559.5,994.4 L561.5,995.9 L563.5,997.4 L565.5,998.8 L567.5,1000.2 L569.5,1001.5 L571.5,1002.7 L573.5,1004.0 L575.5,1005.1 L577.5,1006.2 L579.5,1007.3 L581.5,1008.3 L583.5,1009.2 L585.5,1010.1 L587.5,1011.0 L589.5,1011.8 L591.5,1012.5 L593.5,1013.2 L595.5,1013.9 L597.5,1014.5 L599.5,1015.0 L601.5,1015.5 L603.5,1016.0 L605.5,1016.3 L607.5,1016.7 L609.5,1017.0 L611.5,1017.2 L613.5,1017.4 L615.5,1017.5 L617.5,1017.6 L619.5,1017.6 L621.5,1017.6 L623.5,1017.5 L625.5,1017.4 L627.5,1017.2 L629.5,1016.9 L631.5,1016.7 L633.5,1016.3 L635.5,1015.9 L637.5,1015.5 L639.5,1015.0 L641.5,1014.5 L643.5,1013.9 L645.5,1013.3 L647.5,1012.6 L649.5,1011.9 L651.5,1011.1 L653.5,1010.3 L655.5,1009.5 L657.5,1008.6 L659.5,1007.7 L661.5,1006.7 L663.5,1005.7 L665.5,1004.7 L667.5,1003.6 L669.5,1002.5 L671.5,1001.3 L673.5,1000.2 L675.5,999.0 L677.5,997.7 L679.5,996.4 L681.5,995.1 L683.5,993.8 L685.5,992.5 L687.5,991.1 L689.5,989.7 L691.5,988.2 L693.5,986.8 L695.5,985.3 L697.5,983.8 L699.5,982.3 L701.5,980.7 L703.5,979.1 L705.5,977.6 L707.5,976.0 L709.5,974.3 L711.5,972.7 L713.5,971.0 L715.5,969.4 L717.5,967.7 L719.5,966.0 L721.5,964.3 L723.5,962.6 L725.5,960.9 L727.5,959.1 L729.5,957.4 L731.5,955.6 L733.5,953.9 L735.5,952.1 L737.5,950.4 L739.5,948.6 L741.5,946.8 L743.5,945.1 L745.5,943.3 L747.5,941.6 L749.5,939.8 L751.5,938.1 L753.5,936.4 L755.5,934.6 L757.5,932.9 L759.5,931.2 L761.5,929.5 L763.5,927.8 L765.5,926.2 L767.5,924.5 L769.5,922.8 L771.5,921.2 L773.5,919.6 L775.5,918.0 L777.5,916.4 L779.5,914.8 L781.5,913.2 L783.5,911.6 L785.5,910.0 L787.5,908.4 L789.5,906.9 L791.5,905.3 L793.5,903.7 L795.5,902.2 L797.5,900.6 L799.5,899.1 L801.5,897.5 L803.5,896.0 L805.5,894.4 L807.5,892.9 L809.5,891.4 L811.5,889.8 L813.5,888.3 L815.5,886.8 L817.5,885.3 L819.5,883.8 L821.5,882.3 L823.5,880.9 L825.5,879.4 L827.5,877.9 L829.5,876.5 L831.5,875.1 L833.5,873.6 L835.5,872.2 L837.5,870.8 L839.5,869.5 L841.5,868.1 L843.5,866.7 L845.5,865.4 L847.5,864.1 L849.5,862.7 L851.5,861.5 L853.5,860.2 L855.5,858.9 L857.5,857.7 L859.5,856.4 L861.5,855.2 L863.5,854.0 L865.5,852.9 L867.5,851.7 L869.5,850.6 L871.5,849.4 L873.5,848.4 L875.5,847.3 L877.5,846.2 L879.5,845.2 L881.5,844.2 L883.5,843.2 L885.5,842.2 L887.5,841.3 L889.5,840.4 L891.5,839.5 L893.5,838.6 L895.5,837.8 L897.5,837.0 L899.5,836.2 L901.5,835.4 L903.5,834.7 L905.5,834.0 L907.5,833.3 L909.5,832.6 L911.5,831.9 L913.5,831.3 L915.5,830.7 L917.5,830.1 L919.5,829.5 L921.5,829.0 L923.5,828.4 L925.5,827.9 L927.5,827.4 L929.5,826.9 L931.5,826.4 L933.5,826.0 L935.5,825.5 L937.5,825.1 L939.5,824.7 L941.5,824.3 L943.5,823.9 L945.5,823.5 L947.5,823.2 L949.5,822.8 L951.5,822.5 L953.5,822.1 L955.5,821.8 L957.5,821.5 L959.5,821.2 L961.5,820.9 L963.5,820.6 L965.5,820.4 L967.5,820.1 L969.5,819.8 L971.5,819.6 L973.5,819.3 L975.5,819.1 L977.5,818.8 L979.5,818.6 L981.5,818.4 L983.5,818.2 L984.9,818.0" stroke="#66ccee" stroke-width="5.6"/>
<path d="M171.0,1001.5 L197.0,991.3 L221.2,1005.3 L244.1,1029.5 L262.0,1048.6 L279.8,1063.9 L297.6,1075.4 L315.5,1082.3 L317.5,1082.8 L319.5,1083.3 L321.5,1083.8 L323.5,1084.2 L325.5,1084.5 L327.5,1084.9 L329.5,1085.1 L331.5,1085.3 L333.5,1085.5 L335.5,1085.6 L337.5,1085.6 L339.5,1085.6 L341.5,1085.6 L343.5,1085.4 L345.5,1085.3 L347.5,1085.0 L349.5,1084.8 L351.5,1084.4 L353.5,1084.0 L355.5,1083.6 L357.5,1083.0 L359.5,1082.4 L361.5,1081.8 L363.5,1081.1 L365.5,1080.3 L367.5,1079.5 L369.5,1078.6 L371.5,1077.6 L373.5,1076.6 L375.5,1075.5 L377.5,1074.3 L379.5,1073.1 L381.5,1071.7 L383.5,1070.4 L385.5,1068.9 L387.5,1067.4 L389.5,1065.8 L391.5,1064.1 L393.5,1062.4 L395.5,1060.6 L397.5,1058.7 L399.5,1056.7 L401.5,1054.6 L403.5,1052.5 L405.5,1050.3 L407.5,1048.0 L409.5,1045.7 L411.5,1043.3 L413.5,1040.8 L415.5,1038.3 L417.5,1035.8 L419.5,1033.2 L421.5,1030.5 L423.5,1027.9 L425.5,1025.2 L427.5,1022.5 L429.5,1019.8 L431.5,1017.0 L433.5,1014.3 L435.5,1011.6 L437.5,1008.9 L439.5,1006.2 L441.5,1003.5 L443.5,1000.8 L445.5,998.2 L447.5,995.6 L449.5,993.0 L451.5,990.5 L453.5,988.0 L455.5,985.6 L457.5,983.2 L459.5,981.0 L461.5,978.7 L463.5,976.6 L465.5,974.6 L467.5,972.6 L469.5,970.7 L471.5,968.9 L473.5,967.2 L475.5,965.7 L477.5,964.2 L479.5,962.8 L481.5,961.6 L483.5,960.4 L485.5,959.4 L487.5,958.5 L489.5,957.7 L491.5,957.1 L493.5,956.6 L495.5,956.2 L497.5,956.0 L499.5,955.9 L501.5,956.0 L503.5,956.2 L505.5,956.6 L507.5,957.2 L509.5,957.8 L511.5,958.6 L513.5,959.6 L515.5,960.6 L517.5,961.8 L519.5,963.0 L521.5,964.4 L523.5,965.8 L525.5,967.3 L527.5,968.9 L529.5,970.5 L531.5,972.2 L533.5,974.0 L535.5,975.7 L537.5,977.5 L539.5,979.3 L541.5,981.2 L543.5,983.0 L545.5,984.8 L547.5,986.7 L549.5,988.5 L551.5,990.3 L553.5,992.2 L555.5,994.0 L557.5,995.7 L559.5,997.5 L561.5,999.2 L563.5,1001.0 L565.5,1002.6 L567.5,1004.3 L569.5,1005.9 L571.5,1007.4 L573.5,1008.9 L575.5,1010.4 L577.5,1011.8 L579.5,1013.1 L581.5,1014.4 L583.5,1015.6 L585.5,1016.8 L587.5,1017.9 L589.5,1018.9 L591.5,1019.8 L593.5,1020.7 L595.5,1021.5 L597.5,1022.3 L599.5,1023.0 L601.5,1023.6 L603.5,1024.2 L605.5,1024.7 L607.5,1025.2 L609.5,1025.6 L611.5,1026.0 L613.5,1026.3 L615.5,1026.6 L617.5,1026.8 L619.5,1027.0 L621.5,1027.1 L623.5,1027.2 L625.5,1027.2 L627.5,1027.2 L629.5,1027.1 L631.5,1027.0 L633.5,1026.9 L635.5,1026.7 L637.5,1026.5 L639.5,1026.2 L641.5,1025.9 L643.5,1025.5 L645.5,1025.1 L647.5,1024.7 L649.5,1024.2 L651.5,1023.7 L653.5,1023.2 L655.5,1022.6 L657.5,1022.0 L659.5,1021.3 L661.5,1020.7 L663.5,1019.9 L665.5,1019.2 L667.5,1018.4 L669.5,1017.6 L671.5,1016.8 L673.5,1015.9 L675.5,1015.0 L677.5,1014.1 L679.5,1013.1 L681.5,1012.1 L683.5,1011.1 L685.5,1010.1 L687.5,1009.0 L689.5,1007.9 L691.5,1006.8 L693.5,1005.7 L695.5,1004.5 L697.5,1003.3 L699.5,1002.1 L701.5,1000.9 L703.5,999.7 L705.5,998.4 L707.5,997.1 L709.5,995.8 L711.5,994.5 L713.5,993.2 L715.5,991.9 L717.5,990.5 L719.5,989.1 L721.5,987.7 L723.5,986.3 L725.5,984.9 L727.5,983.5 L729.5,982.1 L731.5,980.6 L733.5,979.2 L735.5,977.7 L737.5,976.2 L739.5,974.7 L741.5,973.3 L743.5,971.8 L745.5,970.3 L747.5,968.8 L749.5,967.3 L751.5,965.8 L753.5,964.2 L755.5,962.7 L757.5,961.2 L759.5,959.7 L761.5,958.2 L763.5,956.7 L765.5,955.1 L767.5,953.6 L769.5,952.1 L771.5,950.6 L773.5,949.1 L775.5,947.6 L777.5,946.1 L779.5,944.6 L781.5,943.1 L783.5,941.7 L785.5,940.2 L787.5,938.7 L789.5,937.3 L791.5,935.9 L793.5,934.4 L795.5,933.0 L797.5,931.6 L799.5,930.2 L801.5,928.8 L803.5,927.4 L805.5,926.0 L807.5,924.7 L809.5,923.3 L811.5,922.0 L813.5,920.7 L815.5,919.4 L817.5,918.1 L819.5,916.8 L821.5,915.5 L823.5,914.3 L825.5,913.0 L827.5,911.8 L829.5,910.6 L831.5,909.4 L833.5,908.2 L835.5,907.0 L837.5,905.9 L839.5,904.8 L841.5,903.7 L843.5,902.6 L845.5,901.5 L847.5,900.4 L849.5,899.4 L851.5,898.4 L853.5,897.4 L855.5,896.4 L857.5,895.4 L859.5,894.5 L861.5,893.6 L863.5,892.7 L865.5,891.8 L867.5,890.9 L869.5,890.1 L871.5,889.3 L873.5,888.5 L875.5,887.7 L877.5,887.0 L879.5,886.3 L881.5,885.6 L883.5,884.9 L885.5,884.2 L887.5,883.6 L889.5,883.0 L891.5,882.5 L893.5,881.9 L895.5,881.4 L897.5,880.9 L899.5,880.4 L901.5,880.0 L903.5,879.5 L905.5,879.1 L907.5,878.8 L909.5,878.4 L911.5,878.1 L913.5,877.7 L915.5,877.4 L917.5,877.2 L919.5,876.9 L921.5,876.6 L923.5,876.4 L925.5,876.2 L927.5,876.0 L929.5,875.8 L931.5,875.6 L933.5,875.5 L935.5,875.3 L937.5,875.2 L939.5,875.1 L941.5,874.9 L943.5,874.8 L945.5,874.7 L947.5,874.6 L949.5,874.6 L951.5,874.5 L953.5,874.4 L955.5,874.4 L957.5,874.3 L959.5,874.3 L961.5,874.2 L963.5,874.2 L965.5,874.1 L967.5,874.1 L969.5,874.0 L971.5,874.0 L973.5,874.0 L975.5,873.9 L977.5,873.9 L979.5,873.8 L981.5,873.8 L983.5,873.7 L984.9,873.7" stroke="#4477aa" stroke-width="5.6"/>
<path d="M171.0,1048.6 L197.0,1035.9 L221.2,1049.9 L244.1,1074.1 L262.0,1092.0 L279.8,1108.5 L287.5,1114.0 L305.3,1125.5 L307.3,1126.5 L309.3,1127.4 L311.3,1128.2 L313.3,1129.0 L315.3,1129.7 L317.3,1130.3 L319.3,1130.9 L321.3,1131.4 L323.3,1131.8 L325.3,1132.2 L327.3,1132.5 L329.3,1132.7 L331.3,1132.9 L333.3,1133.1 L335.3,1133.1 L337.3,1133.1 L339.3,1133.1 L341.3,1133.0 L343.3,1132.8 L345.3,1132.6 L347.3,1132.3 L349.3,1132.0 L351.3,1131.6 L353.3,1131.1 L355.3,1130.6 L357.3,1130.0 L359.3,1129.4 L361.3,1128.8 L363.3,1128.0 L365.3,1127.3 L367.3,1126.5 L369.3,1125.6 L371.3,1124.7 L373.3,1123.7 L375.3,1122.7 L377.3,1121.6 L379.3,1120.5 L381.3,1119.3 L383.3,1118.1 L385.3,1116.8 L387.3,1115.5 L389.3,1114.1 L391.3,1112.7 L393.3,1111.3 L395.3,1109.8 L397.3,1108.2 L399.3,1106.6 L401.3,1105.0 L403.3,1103.3 L405.3,1101.5 L407.3,1099.7 L409.3,1097.8 L411.3,1095.9 L413.3,1093.9 L415.3,1091.8 L417.3,1089.7 L419.3,1087.5 L421.3,1085.2 L423.3,1082.9 L425.3,1080.5 L427.3,1078.0 L429.3,1075.5 L431.3,1072.9 L433.3,1070.2 L435.3,1067.5 L437.3,1064.8 L439.3,1062.0 L441.3,1059.2 L443.3,1056.4 L445.3,1053.7 L447.3,1050.9 L449.3,1048.1 L451.3,1045.4 L453.3,1042.7 L455.3,1040.0 L457.3,1037.4 L459.3,1034.8 L461.3,1032.3 L463.3,1029.9 L465.3,1027.6 L467.3,1025.4 L469.3,1023.3 L471.3,1021.2 L473.3,1019.3 L475.3,1017.5 L477.3,1015.8 L479.3,1014.2 L481.3,1012.8 L483.3,1011.4 L485.3,1010.3 L487.3,1009.2 L489.3,1008.3 L491.3,1007.5 L493.3,1006.9 L495.3,1006.4 L497.3,1006.1 L499.3,1006.0 L501.3,1006.0 L503.3,1006.2 L505.3,1006.6 L507.3,1007.1 L509.3,1007.8 L511.3,1008.7 L513.3,1009.6 L515.3,1010.8 L517.3,1012.0 L519.3,1013.3 L521.3,1014.7 L523.3,1016.3 L525.3,1017.9 L527.3,1019.5 L529.3,1021.2 L531.3,1023.0 L533.3,1024.8 L535.3,1026.6 L537.3,1028.4 L539.3,1030.3 L541.3,1032.1 L543.3,1034.0 L545.3,1035.8 L547.3,1037.6 L549.3,1039.4 L551.3,1041.2 L553.3,1042.9 L555.3,1044.6 L557.3,1046.3 L559.3,1048.0 L561.3,1049.6 L563.3,1051.3 L565.3,1052.8 L567.3,1054.3 L569.3,1055.8 L571.3,1057.3 L573.3,1058.7 L575.3,1060.0 L577.3,1061.3 L579.3,1062.5 L581.3,1063.7 L583.3,1064.8 L585.3,1065.8 L587.3,1066.8 L589.3,1067.7 L591.3,1068.6 L593.3,1069.4 L595.3,1070.1 L597.3,1070.8 L599.3,1071.4 L601.3,1072.0 L603.3,1072.5 L605.3,1072.9 L607.3,1073.3 L609.3,1073.7 L611.3,1074.0 L613.3,1074.2 L615.3,1074.4 L617.3,1074.5 L619.3,1074.6 L621.3,1074.6 L623.3,1074.6 L625.3,1074.6 L627.3,1074.4 L629.3,1074.3 L631.3,1074.1 L633.3,1073.9 L635.3,1073.6 L637.3,1073.2 L639.3,1072.9 L641.3,1072.5 L643.3,1072.0 L645.3,1071.5 L647.3,1071.0 L649.3,1070.4 L651.3,1069.8 L653.3,1069.1 L655.3,1068.4 L657.3,1067.7 L659.3,1066.9 L661.3,1066.1 L663.3,1065.3 L665.3,1064.4 L667.3,1063.5 L669.3,1062.5 L671.3,1061.5 L673.3,1060.5 L675.3,1059.4 L677.3,1058.4 L679.3,1057.2 L681.3,1056.1 L683.3,1054.9 L685.3,1053.7 L687.3,1052.4 L689.3,1051.1 L691.3,1049.8 L693.3,1048.5 L695.3,1047.1 L697.3,1045.7 L699.3,1044.3 L701.3,1042.9 L703.3,1041.4 L705.3,1039.9 L707.3,1038.4 L709.3,1036.8 L711.3,1035.2 L713.3,1033.6 L715.3,1032.0 L717.3,1030.3 L719.3,1028.7 L721.3,1027.0 L723.3,1025.2 L725.3,1023.5 L727.3,1021.8 L729.3,1020.0 L731.3,1018.2 L733.3,1016.4 L735.3,1014.6 L737.3,1012.8 L739.3,1010.9 L741.3,1009.1 L743.3,1007.2 L745.3,1005.4 L747.3,1003.5 L749.3,1001.6 L751.3,999.8 L753.3,997.9 L755.3,996.0 L757.3,994.1 L759.3,992.3 L761.3,990.4 L763.3,988.5 L765.3,986.7 L767.3,984.8 L769.3,983.0 L771.3,981.2 L773.3,979.3 L775.3,977.5 L777.3,975.7 L779.3,973.9 L781.3,972.2 L783.3,970.4 L785.3,968.7 L787.3,967.0 L789.3,965.3 L791.3,963.7 L793.3,962.0 L795.3,960.4 L797.3,958.8 L799.3,957.3 L801.3,955.7 L803.3,954.2 L805.3,952.8 L807.3,951.3 L809.3,949.9 L811.3,948.5 L813.3,947.1 L815.3,945.8 L817.3,944.5 L819.3,943.2 L821.3,941.9 L823.3,940.6 L825.3,939.3 L827.3,938.0 L829.3,936.8 L831.3,935.5 L833.3,934.2 L835.3,933.0 L837.3,931.7 L839.3,930.4 L841.3,929.2 L843.3,927.9 L845.3,926.6 L847.3,925.3 L849.3,924.0 L851.3,922.7 L853.3,921.4 L855.3,920.1 L857.3,918.8 L859.3,917.6 L861.3,916.3 L863.3,915.0 L865.3,913.7 L867.3,912.5 L869.3,911.2 L871.3,910.0 L873.3,908.7 L875.3,907.5 L877.3,906.3 L879.3,905.1 L881.3,903.9 L883.3,902.7 L885.3,901.6 L887.3,900.4 L889.3,899.3 L891.3,898.2 L893.3,897.1 L895.3,896.0 L897.3,895.0 L899.3,894.0 L901.3,893.0 L903.3,892.0 L905.3,891.0 L907.3,890.1 L909.3,889.1 L911.3,888.2 L913.3,887.3 L915.3,886.5 L917.3,885.6 L919.3,884.8 L921.3,883.9 L923.3,883.1 L925.3,882.3 L927.3,881.6 L929.3,880.8 L931.3,880.1 L933.3,879.4 L935.3,878.7 L937.3,878.0 L939.3,877.3 L941.3,876.6 L943.3,876.0 L945.3,875.4 L947.3,874.8 L949.3,874.2 L951.3,873.6 L953.3,873.0 L955.3,872.5 L957.3,871.9 L959.3,871.4 L961.3,870.9 L963.3,870.4 L965.3,869.9 L967.3,869.5 L969.3,869.0 L971.3,868.6 L973.3,868.1 L975.3,867.7 L977.3,867.3 L979.3,866.9 L981.3,866.5 L983.3,866.2 L984.9,865.9" stroke="#aa3377" stroke-width="5.6"/>
<path d="M171.0,1024.4 L197.0,1074.1 L221.2,1147.2 L241.6,1216.0 L262.4,1284.8 L281.2,1319.7 L298.9,1302.7 L315.5,1247.8 L317.5,1239.9 L319.5,1231.9 L321.5,1223.7 L323.5,1215.4 L325.5,1207.0 L327.5,1198.5 L329.5,1190.1 L331.5,1181.6 L333.5,1173.2 L335.5,1164.8 L337.5,1156.6 L339.5,1148.4 L341.5,1140.4 L343.5,1132.6 L345.5,1125.0 L347.5,1117.6 L349.5,1110.4 L351.5,1103.3 L353.5,1096.4 L355.5,1089.6 L357.5,1082.9 L359.5,1076.2 L361.5,1069.7 L363.5,1063.2 L365.5,1056.7 L367.5,1050.2 L369.5,1043.7 L371.5,1037.2 L373.5,1030.7 L375.5,1024.1 L377.5,1017.5 L379.5,1010.8 L381.5,1004.2 L383.5,997.5 L385.5,990.9 L387.5,984.2 L389.5,977.7 L391.5,971.1 L393.5,964.6 L395.5,958.2 L397.5,951.9 L399.5,945.7 L401.5,939.5 L403.5,933.5 L405.5,927.7 L407.5,922.0 L409.5,916.4 L411.5,911.1 L413.5,906.0 L415.5,901.0 L417.5,896.1 L419.5,891.4 L421.5,886.6 L423.5,881.7 L425.5,876.7 L427.5,871.5 L429.5,866.1 L431.5,860.7 L433.5,855.2 L435.5,849.8 L437.5,844.5 L439.5,839.2 L441.5,834.2 L443.5,829.3 L445.5,824.6 L447.5,820.1 L449.5,815.7 L451.5,811.5 L453.5,807.4 L455.5,803.6 L457.5,799.9 L459.5,796.4 L461.5,793.0 L463.5,789.9 L465.5,786.9 L467.5,784.1 L469.5,781.5 L471.5,779.0 L473.5,776.7 L475.5,774.7 L477.5,772.8 L479.5,771.0 L481.5,769.5 L483.5,768.2 L485.5,767.0 L487.5,766.0 L489.5,765.3 L491.5,764.7 L493.5,764.3 L495.5,764.1 L497.5,764.1 L499.5,764.2 L501.5,764.6 L503.5,765.2 L505.5,766.0 L507.5,766.9 L509.5,768.1 L511.5,769.4 L513.5,771.0 L515.5,772.7 L517.5,774.6 L519.5,776.7 L521.5,779.0 L523.5,781.4 L525.5,783.9 L527.5,786.6 L529.5,789.4 L531.5,792.3 L533.5,795.3 L535.5,798.4 L537.5,801.6 L539.5,804.9 L541.5,808.3 L543.5,811.7 L545.5,815.2 L547.5,818.8 L549.5,822.4 L551.5,826.0 L553.5,829.7 L555.5,833.4 L557.5,837.0 L559.5,840.8 L561.5,844.5 L563.5,848.2 L565.5,851.9 L567.5,855.7 L569.5,859.4 L571.5,863.1 L573.5,866.8 L575.5,870.5 L577.5,874.1 L579.5,877.7 L581.5,881.3 L583.5,884.9 L585.5,888.4 L587.5,891.8 L589.5,895.2 L591.5,898.6 L593.5,901.9 L595.5,905.1 L597.5,908.3 L599.5,911.3 L601.5,914.4 L603.5,917.3 L605.5,920.2 L607.5,923.0 L609.5,925.8 L611.5,928.5 L613.5,931.1 L615.5,933.7 L617.5,936.2 L619.5,938.6 L621.5,941.0 L623.5,943.3 L625.5,945.6 L627.5,947.8 L629.5,950.0 L631.5,952.1 L633.5,954.2 L635.5,956.2 L637.5,958.1 L639.5,960.0 L641.5,961.9 L643.5,963.7 L645.5,965.4 L647.5,967.2 L649.5,968.8 L651.5,970.5 L653.5,972.0 L655.5,973.6 L657.5,975.1 L659.5,976.6 L661.5,978.0 L663.5,979.4 L665.5,980.7 L667.5,982.0 L669.5,983.3 L671.5,984.6 L673.5,985.8 L675.5,987.0 L677.5,988.1 L679.5,989.2 L681.5,990.3 L683.5,991.4 L685.5,992.4 L687.5,993.5 L689.5,994.4 L691.5,995.4 L693.5,996.4 L695.5,997.3 L697.5,998.2 L699.5,999.1 L701.5,999.9 L703.5,1000.8 L705.5,1001.6 L707.5,1002.4 L709.5,1003.2 L711.5,1004.0 L713.5,1004.8 L715.5,1005.6 L717.5,1006.3 L719.5,1007.1 L721.5,1007.8 L723.5,1008.6 L725.5,1009.3 L727.5,1010.0 L729.5,1010.7 L731.5,1011.4 L733.5,1012.1 L735.5,1012.9 L737.5,1013.6 L739.5,1014.3 L741.5,1015.0 L743.5,1015.7 L745.5,1016.4 L747.5,1017.2 L749.5,1017.9 L751.5,1018.6 L753.5,1019.4 L755.5,1020.1 L757.5,1020.9 L759.5,1021.7 L761.5,1022.5 L763.5,1023.3 L765.5,1024.1 L767.5,1024.9 L769.5,1025.8 L771.5,1026.6 L773.5,1027.5 L775.5,1028.4 L777.5,1029.3 L779.5,1030.3 L781.5,1031.2 L783.5,1032.2 L785.5,1033.2 L787.5,1034.3 L789.5,1035.3 L791.5,1036.4 L793.5,1037.5 L795.5,1038.6 L797.5,1039.7 L799.5,1040.8 L801.5,1042.0 L803.5,1043.2 L805.5,1044.4 L807.5,1045.6 L809.5,1046.8 L811.5,1048.1 L813.5,1049.4 L815.5,1050.6 L817.5,1052.0 L819.5,1053.3 L821.5,1054.6 L823.5,1056.0 L825.5,1057.3 L827.5,1058.7 L829.5,1060.1 L831.5,1061.5 L833.5,1063.0 L835.5,1064.4 L837.5,1065.9 L839.5,1067.4 L841.5,1068.8 L843.5,1070.3 L845.5,1071.9 L847.5,1073.4 L849.5,1074.9 L851.5,1076.5 L853.5,1078.1 L855.5,1079.6 L857.5,1081.2 L859.5,1082.8 L861.5,1084.5 L863.5,1086.1 L865.5,1087.7 L867.5,1089.4 L869.5,1091.0 L871.5,1092.7 L873.5,1094.4 L875.5,1096.1 L877.5,1097.8 L879.5,1099.5 L881.5,1101.2 L883.5,1103.0 L885.5,1104.7 L887.5,1106.5 L889.5,1108.2 L891.5,1110.0 L893.5,1111.8 L895.5,1113.5 L897.5,1115.3 L899.5,1117.1 L901.5,1118.9 L903.5,1120.7 L905.5,1122.6 L907.5,1124.4 L909.5,1126.2 L911.5,1128.0 L913.5,1129.9 L915.5,1131.7 L917.5,1133.6 L919.5,1135.4 L921.5,1137.3 L923.5,1139.2 L925.5,1141.0 L927.5,1142.9 L929.5,1144.8 L931.5,1146.7 L933.5,1148.6 L935.5,1150.4 L937.5,1152.3 L939.5,1154.2 L941.5,1156.1 L943.5,1158.0 L945.5,1159.9 L947.5,1161.8 L949.5,1163.7 L951.5,1165.6 L953.5,1167.5 L955.5,1169.4 L957.5,1171.4 L959.5,1173.3 L961.5,1175.2 L963.5,1177.1 L965.5,1179.0 L967.5,1180.9 L969.5,1182.8 L971.5,1184.7 L973.5,1186.6 L975.5,1188.5 L977.5,1190.4 L979.5,1192.3 L981.5,1194.2 L983.5,1196.1 L984.9,1197.4" stroke="#228833" stroke-width="5.6"/>
<path d="M171.0,958.1 L197.0,979.8 L221.2,1015.5 L244.1,1048.6 L262.0,1070.3 L279.8,1086.9 L297.6,1097.1 L315.5,1102.2 L317.5,1102.3 L319.5,1102.3 L321.5,1102.3 L323.5,1102.2 L325.5,1102.0 L327.5,1101.7 L329.5,1101.3 L331.5,1100.9 L333.5,1100.4 L335.5,1099.8 L337.5,1099.2 L339.5,1098.4 L341.5,1097.6 L343.5,1096.8 L345.5,1095.8 L347.5,1094.8 L349.5,1093.8 L351.5,1092.7 L353.5,1091.5 L355.5,1090.2 L357.5,1088.9 L359.5,1087.6 L361.5,1086.2 L363.5,1084.7 L365.5,1083.2 L367.5,1081.6 L369.5,1079.9 L371.5,1078.3 L373.5,1076.5 L375.5,1074.8 L377.5,1072.9 L379.5,1071.1 L381.5,1069.2 L383.5,1067.2 L385.5,1065.2 L387.5,1063.2 L389.5,1061.1 L391.5,1059.0 L393.5,1056.9 L395.5,1054.7 L397.5,1052.5 L399.5,1050.3 L401.5,1048.0 L403.5,1045.7 L405.5,1043.4 L407.5,1041.0 L409.5,1038.6 L411.5,1036.2 L413.5,1033.8 L415.5,1031.3 L417.5,1028.8 L419.5,1026.2 L421.5,1023.6 L423.5,1020.9 L425.5,1018.2 L427.5,1015.5 L429.5,1012.7 L431.5,1009.9 L433.5,1007.0 L435.5,1004.1 L437.5,1001.2 L439.5,998.2 L441.5,995.3 L443.5,992.3 L445.5,989.3 L447.5,986.3 L449.5,983.3 L451.5,980.3 L453.5,977.4 L455.5,974.5 L457.5,971.6 L459.5,968.8 L461.5,966.1 L463.5,963.4 L465.5,960.8 L467.5,958.3 L469.5,955.9 L471.5,953.6 L473.5,951.4 L475.5,949.4 L477.5,947.4 L479.5,945.6 L481.5,944.0 L483.5,942.5 L485.5,941.1 L487.5,939.9 L489.5,938.8 L491.5,937.9 L493.5,937.1 L495.5,936.4 L497.5,935.9 L499.5,935.5 L501.5,935.3 L503.5,935.2 L505.5,935.2 L507.5,935.4 L509.5,935.7 L511.5,936.2 L513.5,936.8 L515.5,937.5 L517.5,938.4 L519.5,939.4 L521.5,940.5 L523.5,941.7 L525.5,943.1 L527.5,944.6 L529.5,946.1 L531.5,947.7 L533.5,949.4 L535.5,951.2 L537.5,953.0 L539.5,954.9 L541.5,956.8 L543.5,958.7 L545.5,960.7 L547.5,962.7 L549.5,964.7 L551.5,966.7 L553.5,968.7 L555.5,970.7 L557.5,972.8 L559.5,974.8 L561.5,976.7 L563.5,978.7 L565.5,980.7 L567.5,982.6 L569.5,984.5 L571.5,986.3 L573.5,988.1 L575.5,989.9 L577.5,991.6 L579.5,993.3 L581.5,994.9 L583.5,996.5 L585.5,998.0 L587.5,999.4 L589.5,1000.8 L591.5,1002.1 L593.5,1003.3 L595.5,1004.4 L597.5,1005.5 L599.5,1006.5 L601.5,1007.5 L603.5,1008.3 L605.5,1009.2 L607.5,1009.9 L609.5,1010.6 L611.5,1011.3 L613.5,1011.8 L615.5,1012.4 L617.5,1012.9 L619.5,1013.3 L621.5,1013.7 L623.5,1014.0 L625.5,1014.3 L627.5,1014.6 L629.5,1014.8 L631.5,1014.9 L633.5,1015.1 L635.5,1015.1 L637.5,1015.2 L639.5,1015.1 L641.5,1015.1 L643.5,1015.0 L645.5,1014.9 L647.5,1014.7 L649.5,1014.5 L651.5,1014.2 L653.5,1013.9 L655.5,1013.6 L657.5,1013.2 L659.5,1012.8 L661.5,1012.4 L663.5,1011.9 L665.5,1011.4 L667.5,1010.9 L669.5,1010.3 L671.5,1009.7 L673.5,1009.1 L675.5,1008.4 L677.5,1007.7 L679.5,1007.0 L681.5,1006.2 L683.5,1005.5 L685.5,1004.7 L687.5,1003.8 L689.5,1003.0 L691.5,1002.1 L693.5,1001.2 L695.5,1000.2 L697.5,999.3 L699.5,998.3 L701.5,997.3 L703.5,996.3 L705.5,995.2 L707.5,994.1 L709.5,993.1 L711.5,992.0 L713.5,990.8 L715.5,989.7 L717.5,988.5 L719.5,987.4 L721.5,986.2 L723.5,985.0 L725.5,983.7 L727.5,982.5 L729.5,981.2 L731.5,980.0 L733.5,978.7 L735.5,977.4 L737.5,976.1 L739.5,974.8 L741.5,973.5 L743.5,972.2 L745.5,970.9 L747.5,969.5 L749.5,968.2 L751.5,966.8 L753.5,965.5 L755.5,964.1 L757.5,962.7 L759.5,961.4 L761.5,960.0 L763.5,958.6 L765.5,957.2 L767.5,955.9 L769.5,954.5 L771.5,953.1 L773.5,951.7 L775.5,950.3 L777.5,949.0 L779.5,947.6 L781.5,946.2 L783.5,944.9 L785.5,943.5 L787.5,942.1 L789.5,940.8 L791.5,939.4 L793.5,938.1 L795.5,936.7 L797.5,935.4 L799.5,934.1 L801.5,932.7 L803.5,931.4 L805.5,930.1 L807.5,928.8 L809.5,927.5 L811.5,926.2 L813.5,924.9 L815.5,923.6 L817.5,922.3 L819.5,921.0 L821.5,919.7 L823.5,918.4 L825.5,917.2 L827.5,915.9 L829.5,914.6 L831.5,913.4 L833.5,912.1 L835.5,910.9 L837.5,909.6 L839.5,908.4 L841.5,907.2 L843.5,905.9 L845.5,904.7 L847.5,903.5 L849.5,902.3 L851.5,901.1 L853.5,899.9 L855.5,898.7 L857.5,897.5 L859.5,896.3 L861.5,895.1 L863.5,893.9 L865.5,892.7 L867.5,891.6 L869.5,890.4 L871.5,889.3 L873.5,888.1 L875.5,887.0 L877.5,885.8 L879.5,884.7 L881.5,883.6 L883.5,882.4 L885.5,881.3 L887.5,880.2 L889.5,879.1 L891.5,878.0 L893.5,876.9 L895.5,875.8 L897.5,874.7 L899.5,873.7 L901.5,872.6 L903.5,871.5 L905.5,870.5 L907.5,869.4 L909.5,868.4 L911.5,867.4 L913.5,866.4 L915.5,865.4 L917.5,864.4 L919.5,863.4 L921.5,862.4 L923.5,861.5 L925.5,860.5 L927.5,859.6 L929.5,858.7 L931.5,857.7 L933.5,856.9 L935.5,856.0 L937.5,855.1 L939.5,854.3 L941.5,853.4 L943.5,852.6 L945.5,851.8 L947.5,851.0 L949.5,850.3 L951.5,849.5 L953.5,848.8 L955.5,848.1 L957.5,847.4 L959.5,846.7 L961.5,846.0 L963.5,845.4 L965.5,844.8 L967.5,844.2 L969.5,843.6 L971.5,843.1 L973.5,842.6 L975.5,842.1 L977.5,841.6 L979.5,841.1 L981.5,840.7 L983.5,840.3 L984.9,840.0" stroke="#000000" stroke-width="5.6"/>
<path d="M171.0,1033.3 L197.0,1017.5 L221.2,1030.8 L244.1,1057.6 L262.0,1083.0 L274.7,1104.7 L287.5,1124.2 L305.3,1153.5 L307.3,1156.7 L309.3,1159.8 L311.3,1162.9 L313.3,1166.0 L315.3,1169.1 L317.3,1172.1 L319.3,1175.0 L321.3,1178.0 L323.3,1180.9 L325.3,1183.8 L327.3,1186.6 L329.3,1189.4 L331.3,1192.2 L333.3,1194.9 L335.3,1197.6 L337.3,1200.2 L339.3,1202.8 L341.3,1205.3 L343.3,1207.8 L345.3,1210.3 L347.3,1212.7 L349.3,1215.1 L351.3,1217.4 L353.3,1219.7 L355.3,1221.9 L357.3,1224.1 L359.3,1226.1 L361.3,1228.1 L363.3,1230.0 L365.3,1231.8 L367.3,1233.4 L369.3,1234.9 L371.3,1236.2 L373.3,1237.4 L375.3,1238.3 L377.3,1239.1 L379.3,1239.6 L381.3,1239.9 L383.3,1240.0 L385.3,1239.8 L387.3,1239.3 L389.3,1238.6 L391.3,1237.6 L393.3,1236.4 L395.3,1234.9 L397.3,1233.2 L399.3,1231.3 L401.3,1229.2 L403.3,1226.8 L405.3,1224.2 L407.3,1221.5 L409.3,1218.5 L411.3,1215.3 L413.3,1212.0 L415.3,1208.5 L417.3,1204.8 L419.3,1201.0 L421.3,1197.0 L423.3,1192.8 L425.3,1188.5 L427.3,1184.1 L429.3,1179.6 L431.3,1174.9 L433.3,1170.1 L435.3,1165.2 L437.3,1160.2 L439.3,1155.1 L441.3,1149.9 L443.3,1144.6 L445.3,1139.3 L447.3,1133.8 L449.3,1128.3 L451.3,1122.8 L453.3,1117.1 L455.3,1111.3 L457.3,1105.5 L459.3,1099.6 L461.3,1093.7 L463.3,1087.7 L465.3,1081.8 L467.3,1075.9 L469.3,1070.1 L471.3,1064.4 L473.3,1058.7 L475.3,1053.2 L477.3,1047.8 L479.3,1042.5 L481.3,1037.5 L483.3,1032.6 L485.3,1027.9 L487.3,1023.4 L489.3,1019.0 L491.3,1014.9 L493.3,1010.9 L495.3,1007.2 L497.3,1003.6 L499.3,1000.2 L501.3,997.0 L503.3,994.0 L505.3,991.2 L507.3,988.6 L509.3,986.2 L511.3,984.0 L513.3,982.0 L515.3,980.2 L517.3,978.5 L519.3,977.1 L521.3,975.7 L523.3,974.6 L525.3,973.6 L527.3,972.7 L529.3,972.0 L531.3,971.3 L533.3,970.8 L535.3,970.3 L537.3,970.0 L539.3,969.7 L541.3,969.5 L543.3,969.3 L545.3,969.2 L547.3,969.2 L549.3,969.2 L551.3,969.3 L553.3,969.4 L555.3,969.5 L557.3,969.7 L559.3,969.9 L561.3,970.2 L563.3,970.5 L565.3,970.8 L567.3,971.1 L569.3,971.5 L571.3,971.9 L573.3,972.3 L575.3,972.7 L577.3,973.1 L579.3,973.5 L581.3,973.9 L583.3,974.4 L585.3,974.8 L587.3,975.2 L589.3,975.6 L591.3,976.0 L593.3,976.3 L595.3,976.7 L597.3,977.0 L599.3,977.4 L601.3,977.7 L603.3,978.0 L605.3,978.3 L607.3,978.5 L609.3,978.8 L611.3,979.1 L613.3,979.3 L615.3,979.5 L617.3,979.7 L619.3,979.9 L621.3,980.0 L623.3,980.2 L625.3,980.3 L627.3,980.5 L629.3,980.6 L631.3,980.6 L633.3,980.7 L635.3,980.8 L637.3,980.8 L639.3,980.8 L641.3,980.8 L643.3,980.8 L645.3,980.8 L647.3,980.7 L649.3,980.6 L651.3,980.6 L653.3,980.4 L655.3,980.3 L657.3,980.2 L659.3,980.0 L661.3,979.8 L663.3,979.6 L665.3,979.4 L667.3,979.1 L669.3,978.9 L671.3,978.6 L673.3,978.3 L675.3,977.9 L677.3,977.6 L679.3,977.2 L681.3,976.8 L683.3,976.4 L685.3,976.0 L687.3,975.6 L689.3,975.1 L691.3,974.7 L693.3,974.2 L695.3,973.7 L697.3,973.2 L699.3,972.8 L701.3,972.2 L703.3,971.7 L705.3,971.2 L707.3,970.7 L709.3,970.1 L711.3,969.6 L713.3,969.1 L715.3,968.5 L717.3,968.0 L719.3,967.4 L721.3,966.9 L723.3,966.3 L725.3,965.8 L727.3,965.3 L729.3,964.7 L731.3,964.2 L733.3,963.7 L735.3,963.2 L737.3,962.6 L739.3,962.1 L741.3,961.6 L743.3,961.1 L745.3,960.7 L747.3,960.2 L749.3,959.7 L751.3,959.3 L753.3,958.9 L755.3,958.5 L757.3,958.1 L759.3,957.7 L761.3,957.3 L763.3,957.0 L765.3,956.7 L767.3,956.4 L769.3,956.1 L771.3,955.8 L773.3,955.5 L775.3,955.3 L777.3,955.1 L779.3,954.9 L781.3,954.7 L783.3,954.5 L785.3,954.4 L787.3,954.3 L789.3,954.1 L791.3,954.0 L793.3,954.0 L795.3,953.9 L797.3,953.8 L799.3,953.8 L801.3,953.8 L803.3,953.8 L805.3,953.8 L807.3,953.8 L809.3,953.9 L811.3,953.9 L813.3,954.0 L815.3,954.1 L817.3,954.2 L819.3,954.3 L821.3,954.5 L823.3,954.6 L825.3,954.8 L827.3,955.0 L829.3,955.1 L831.3,955.3 L833.3,955.6 L835.3,955.8 L837.3,956.0 L839.3,956.3 L841.3,956.6 L843.3,956.9 L845.3,957.2 L847.3,957.5 L849.3,957.8 L851.3,958.1 L853.3,958.5 L855.3,958.8 L857.3,959.2 L859.3,959.6 L861.3,960.0 L863.3,960.4 L865.3,960.8 L867.3,961.2 L869.3,961.7 L871.3,962.1 L873.3,962.6 L875.3,963.1 L877.3,963.5 L879.3,964.0 L881.3,964.5 L883.3,965.0 L885.3,965.6 L887.3,966.1 L889.3,966.6 L891.3,967.2 L893.3,967.8 L895.3,968.3 L897.3,968.9 L899.3,969.5 L901.3,970.1 L903.3,970.7 L905.3,971.3 L907.3,971.9 L909.3,972.6 L911.3,973.2 L913.3,973.8 L915.3,974.5 L917.3,975.2 L919.3,975.8 L921.3,976.5 L923.3,977.2 L925.3,977.9 L927.3,978.6 L929.3,979.3 L931.3,980.0 L933.3,980.7 L935.3,981.4 L937.3,982.2 L939.3,982.9 L941.3,983.6 L943.3,984.4 L945.3,985.1 L947.3,985.9 L949.3,986.7 L951.3,987.4 L953.3,988.2 L955.3,989.0 L957.3,989.8 L959.3,990.6 L961.3,991.4 L963.3,992.2 L965.3,993.0 L967.3,993.8 L969.3,994.6 L971.3,995.4 L973.3,996.2 L975.3,997.0 L977.3,997.9 L979.3,998.7 L981.3,999.5 L983.3,1000.3 L984.9,1001.0" stroke="#ccbb44" stroke-width="5.6"/>
<path d="M171.0,907.2 L197.0,919.9 L221.2,950.5 L244.1,979.8 L262.0,1001.5 L279.8,1016.8 L297.6,1027.0 L315.5,1031.3 L317.5,1031.2 L319.5,1031.1 L321.5,1030.9 L323.5,1030.6 L325.5,1030.2 L327.5,1029.7 L329.5,1029.1 L331.5,1028.5 L333.5,1027.8 L335.5,1027.0 L337.5,1026.1 L339.5,1025.2 L341.5,1024.2 L343.5,1023.1 L345.5,1022.0 L347.5,1020.8 L349.5,1019.6 L351.5,1018.3 L353.5,1016.9 L355.5,1015.6 L357.5,1014.1 L359.5,1012.6 L361.5,1011.0 L363.5,1009.4 L365.5,1007.7 L367.5,1005.9 L369.5,1004.0 L371.5,1002.1 L373.5,1000.1 L375.5,998.0 L377.5,995.9 L379.5,993.6 L381.5,991.2 L383.5,988.8 L385.5,986.3 L387.5,983.6 L389.5,980.9 L391.5,978.0 L393.5,975.1 L395.5,972.1 L397.5,969.0 L399.5,965.8 L401.5,962.5 L403.5,959.2 L405.5,955.7 L407.5,952.2 L409.5,948.6 L411.5,944.9 L413.5,941.2 L415.5,937.4 L417.5,933.5 L419.5,929.6 L421.5,925.6 L423.5,921.5 L425.5,917.4 L427.5,913.2 L429.5,909.0 L431.5,904.8 L433.5,900.4 L435.5,896.1 L437.5,891.7 L439.5,887.2 L441.5,882.7 L443.5,878.2 L445.5,873.7 L447.5,869.2 L449.5,864.7 L451.5,860.2 L453.5,855.8 L455.5,851.4 L457.5,847.0 L459.5,842.7 L461.5,838.5 L463.5,834.4 L465.5,830.4 L467.5,826.5 L469.5,822.7 L471.5,819.1 L473.5,815.6 L475.5,812.3 L477.5,809.1 L479.5,806.1 L481.5,803.3 L483.5,800.6 L485.5,798.2 L487.5,795.9 L489.5,793.8 L491.5,791.9 L493.5,790.2 L495.5,788.7 L497.5,787.3 L499.5,786.2 L501.5,785.2 L503.5,784.4 L505.5,783.9 L507.5,783.5 L509.5,783.3 L511.5,783.2 L513.5,783.4 L515.5,783.7 L517.5,784.1 L519.5,784.7 L521.5,785.4 L523.5,786.3 L525.5,787.4 L527.5,788.5 L529.5,789.8 L531.5,791.1 L533.5,792.6 L535.5,794.2 L537.5,795.9 L539.5,797.7 L541.5,799.6 L543.5,801.6 L545.5,803.6 L547.5,805.7 L549.5,807.9 L551.5,810.1 L553.5,812.4 L555.5,814.7 L557.5,817.0 L559.5,819.4 L561.5,821.9 L563.5,824.3 L565.5,826.8 L567.5,829.3 L569.5,831.7 L571.5,834.2 L573.5,836.7 L575.5,839.2 L577.5,841.7 L579.5,844.2 L581.5,846.6 L583.5,849.1 L585.5,851.6 L587.5,854.0 L589.5,856.5 L591.5,858.9 L593.5,861.3 L595.5,863.7 L597.5,866.1 L599.5,868.5 L601.5,870.9 L603.5,873.3 L605.5,875.6 L607.5,877.9 L609.5,880.2 L611.5,882.5 L613.5,884.8 L615.5,887.0 L617.5,889.2 L619.5,891.4 L621.5,893.6 L623.5,895.7 L625.5,897.8 L627.5,899.9 L629.5,901.9 L631.5,903.9 L633.5,905.9 L635.5,907.9 L637.5,909.8 L639.5,911.7 L641.5,913.5 L643.5,915.4 L645.5,917.1 L647.5,918.9 L649.5,920.6 L651.5,922.2 L653.5,923.8 L655.5,925.4 L657.5,927.0 L659.5,928.5 L661.5,929.9 L663.5,931.3 L665.5,932.7 L667.5,934.1 L669.5,935.4 L671.5,936.7 L673.5,937.9 L675.5,939.1 L677.5,940.2 L679.5,941.3 L681.5,942.4 L683.5,943.5 L685.5,944.5 L687.5,945.4 L689.5,946.3 L691.5,947.2 L693.5,948.0 L695.5,948.8 L697.5,949.6 L699.5,950.3 L701.5,951.0 L703.5,951.7 L705.5,952.3 L707.5,952.8 L709.5,953.4 L711.5,953.8 L713.5,954.3 L715.5,954.7 L717.5,955.1 L719.5,955.4 L721.5,955.7 L723.5,956.0 L725.5,956.2 L727.5,956.4 L729.5,956.5 L731.5,956.6 L733.5,956.7 L735.5,956.8 L737.5,956.8 L739.5,956.9 L741.5,956.8 L743.5,956.8 L745.5,956.7 L747.5,956.6 L749.5,956.5 L751.5,956.4 L753.5,956.3 L755.5,956.1 L757.5,955.9 L759.5,955.7 L761.5,955.5 L763.5,955.3 L765.5,955.1 L767.5,954.8 L769.5,954.6 L771.5,954.3 L773.5,954.0 L775.5,953.8 L777.5,953.5 L779.5,953.2 L781.5,952.9 L783.5,952.6 L785.5,952.4 L787.5,952.1 L789.5,951.8 L791.5,951.5 L793.5,951.3 L795.5,951.0 L797.5,950.7 L799.5,950.5 L801.5,950.2 L803.5,950.0 L805.5,949.7 L807.5,949.5 L809.5,949.3 L811.5,949.1 L813.5,948.9 L815.5,948.6 L817.5,948.4 L819.5,948.2 L821.5,948.0 L823.5,947.8 L825.5,947.7 L827.5,947.5 L829.5,947.3 L831.5,947.1 L833.5,947.0 L835.5,946.8 L837.5,946.6 L839.5,946.5 L841.5,946.3 L843.5,946.2 L845.5,946.1 L847.5,945.9 L849.5,945.8 L851.5,945.7 L853.5,945.5 L855.5,945.4 L857.5,945.3 L859.5,945.2 L861.5,945.1 L863.5,945.0 L865.5,944.9 L867.5,944.8 L869.5,944.7 L871.5,944.6 L873.5,944.5 L875.5,944.4 L877.5,944.4 L879.5,944.3 L881.5,944.2 L883.5,944.2 L885.5,944.1 L887.5,944.0 L889.5,944.0 L891.5,943.9 L893.5,943.9 L895.5,943.8 L897.5,943.8 L899.5,943.7 L901.5,943.7 L903.5,943.6 L905.5,943.6 L907.5,943.6 L909.5,943.5 L911.5,943.5 L913.5,943.5 L915.5,943.5 L917.5,943.4 L919.5,943.4 L921.5,943.4 L923.5,943.4 L925.5,943.4 L927.5,943.3 L929.5,943.3 L931.5,943.3 L933.5,943.3 L935.5,943.3 L937.5,943.3 L939.5,943.3 L941.5,943.3 L943.5,943.3 L945.5,943.3 L947.5,943.3 L949.5,943.3 L951.5,943.3 L953.5,943.3 L955.5,943.4 L957.5,943.4 L959.5,943.4 L961.5,943.4 L963.5,943.4 L965.5,943.4 L967.5,943.4 L969.5,943.5 L971.5,943.5 L973.5,943.5 L975.5,943.5 L977.5,943.5 L979.5,943.5 L981.5,943.6 L983.5,943.6 L984.9,943.6" stroke="#009988" stroke-width="5.6" stroke-dasharray="19.98 8.64" stroke-dashoffset="8.00"/>
<path d="M171.0,878.8 L197.0,880.6 L221.2,904.6 L244.1,941.6 L262.0,967.1 L279.8,988.7 L297.6,1000.2 L313.0,1003.3 L315.0,1002.6 L317.0,1001.8 L319.0,1000.8 L321.0,999.6 L323.0,998.2 L325.0,996.7 L327.0,995.0 L329.0,993.2 L331.0,991.3 L333.0,989.2 L335.0,987.0 L337.0,984.7 L339.0,982.4 L341.0,980.0 L343.0,977.4 L345.0,974.9 L347.0,972.3 L349.0,969.6 L351.0,966.9 L353.0,964.1 L355.0,961.3 L357.0,958.5 L359.0,955.6 L361.0,952.7 L363.0,949.7 L365.0,946.7 L367.0,943.7 L369.0,940.6 L371.0,937.6 L373.0,934.5 L375.0,931.3 L377.0,928.2 L379.0,925.0 L381.0,921.8 L383.0,918.6 L385.0,915.4 L387.0,912.1 L389.0,908.9 L391.0,905.6 L393.0,902.4 L395.0,899.1 L397.0,895.9 L399.0,892.6 L401.0,889.3 L403.0,886.1 L405.0,882.8 L407.0,879.6 L409.0,876.3 L411.0,873.1 L413.0,869.9 L415.0,866.7 L417.0,863.5 L419.0,860.3 L421.0,857.2 L423.0,854.0 L425.0,850.9 L427.0,847.8 L429.0,844.8 L431.0,841.8 L433.0,838.8 L435.0,835.9 L437.0,833.1 L439.0,830.3 L441.0,827.6 L443.0,825.0 L445.0,822.6 L447.0,820.2 L449.0,818.0 L451.0,815.9 L453.0,813.9 L455.0,812.1 L457.0,810.5 L459.0,809.0 L461.0,807.6 L463.0,806.4 L465.0,805.3 L467.0,804.3 L469.0,803.5 L471.0,802.9 L473.0,802.4 L475.0,802.0 L477.0,801.8 L479.0,801.7 L481.0,801.8 L483.0,802.0 L485.0,802.4 L487.0,802.9 L489.0,803.6 L491.0,804.4 L493.0,805.3 L495.0,806.4 L497.0,807.6 L499.0,809.0 L501.0,810.5 L503.0,812.2 L505.0,814.0 L507.0,816.0 L509.0,818.1 L511.0,820.4 L513.0,822.8 L515.0,825.3 L517.0,828.0 L519.0,830.8 L521.0,833.7 L523.0,836.8 L525.0,839.9 L527.0,843.1 L529.0,846.4 L531.0,849.9 L533.0,853.3 L535.0,856.9 L537.0,860.5 L539.0,864.1 L541.0,867.8 L543.0,871.5 L545.0,875.2 L547.0,879.0 L549.0,882.7 L551.0,886.5 L553.0,890.3 L555.0,894.0 L557.0,897.7 L559.0,901.4 L561.0,905.1 L563.0,908.7 L565.0,912.2 L567.0,915.7 L569.0,919.1 L571.0,922.4 L573.0,925.7 L575.0,928.8 L577.0,931.9 L579.0,934.8 L581.0,937.7 L583.0,940.4 L585.0,942.9 L587.0,945.3 L589.0,947.6 L591.0,949.8 L593.0,951.8 L595.0,953.6 L597.0,955.4 L599.0,957.0 L601.0,958.5 L603.0,959.8 L605.0,961.1 L607.0,962.2 L609.0,963.2 L611.0,964.2 L613.0,965.0 L615.0,965.7 L617.0,966.3 L619.0,966.9 L621.0,967.3 L623.0,967.7 L625.0,968.0 L627.0,968.2 L629.0,968.3 L631.0,968.4 L633.0,968.4 L635.0,968.3 L637.0,968.2 L639.0,968.0 L641.0,967.8 L643.0,967.5 L645.0,967.1 L647.0,966.8 L649.0,966.4 L651.0,965.9 L653.0,965.5 L655.0,965.0 L657.0,964.4 L659.0,963.9 L661.0,963.3 L663.0,962.7 L665.0,962.1 L667.0,961.5 L669.0,960.9 L671.0,960.2 L673.0,959.6 L675.0,958.9 L677.0,958.2 L679.0,957.5 L681.0,956.8 L683.0,956.0 L685.0,955.3 L687.0,954.6 L689.0,953.8 L691.0,953.1 L693.0,952.3 L695.0,951.6 L697.0,950.8 L699.0,950.1 L701.0,949.3 L703.0,948.6 L705.0,947.8 L707.0,947.1 L709.0,946.3 L711.0,945.6 L713.0,944.8 L715.0,944.1 L717.0,943.4 L719.0,942.7 L721.0,942.0 L723.0,941.3 L725.0,940.6 L727.0,939.9 L729.0,939.3 L731.0,938.6 L733.0,938.0 L735.0,937.4 L737.0,936.8 L739.0,936.2 L741.0,935.7 L743.0,935.1 L745.0,934.6 L747.0,934.1 L749.0,933.6 L751.0,933.1 L753.0,932.6 L755.0,932.2 L757.0,931.7 L759.0,931.3 L761.0,930.9 L763.0,930.5 L765.0,930.1 L767.0,929.7 L769.0,929.3 L771.0,929.0 L773.0,928.6 L775.0,928.3 L777.0,928.0 L779.0,927.7 L781.0,927.4 L783.0,927.1 L785.0,926.9 L787.0,926.6 L789.0,926.4 L791.0,926.1 L793.0,925.9 L795.0,925.7 L797.0,925.5 L799.0,925.3 L801.0,925.1 L803.0,924.9 L805.0,924.8 L807.0,924.6 L809.0,924.5 L811.0,924.3 L813.0,924.2 L815.0,924.1 L817.0,924.0 L819.0,923.9 L821.0,923.8 L823.0,923.7 L825.0,923.6 L827.0,923.5 L829.0,923.4 L831.0,923.4 L833.0,923.3 L835.0,923.3 L837.0,923.2 L839.0,923.2 L841.0,923.2 L843.0,923.2 L845.0,923.1 L847.0,923.1 L849.0,923.1 L851.0,923.1 L853.0,923.1 L855.0,923.1 L857.0,923.2 L859.0,923.2 L861.0,923.2 L863.0,923.2 L865.0,923.2 L867.0,923.3 L869.0,923.3 L871.0,923.4 L873.0,923.4 L875.0,923.4 L877.0,923.5 L879.0,923.5 L881.0,923.6 L883.0,923.6 L885.0,923.7 L887.0,923.8 L889.0,923.8 L891.0,923.9 L893.0,923.9 L895.0,924.0 L897.0,924.1 L899.0,924.1 L901.0,924.2 L903.0,924.3 L905.0,924.3 L907.0,924.4 L909.0,924.4 L911.0,924.5 L913.0,924.6 L915.0,924.6 L917.0,924.7 L919.0,924.7 L921.0,924.8 L923.0,924.8 L925.0,924.9 L927.0,925.0 L929.0,925.0 L931.0,925.0 L933.0,925.1 L935.0,925.1 L937.0,925.2 L939.0,925.2 L941.0,925.2 L943.0,925.2 L945.0,925.3 L947.0,925.3 L949.0,925.3 L951.0,925.3 L953.0,925.3 L955.0,925.3 L957.0,925.3 L959.0,925.3 L961.0,925.3 L963.0,925.3 L965.0,925.2 L967.0,925.2 L969.0,925.2 L971.0,925.1 L973.0,925.1 L975.0,925.0 L977.0,924.9 L979.0,924.9 L981.0,924.8 L983.0,924.7 L984.9,924.6" stroke="#66ccee" stroke-width="5.6" stroke-dasharray="19.98 8.64" stroke-dashoffset="18.01"/>
<path d="M171.0,881.7 L197.0,905.9 L221.2,941.6 L244.1,968.3 L262.0,983.6 L279.8,993.8 L302.7,1004.8 L304.7,1005.3 L306.7,1005.8 L308.7,1006.1 L310.7,1006.4 L312.7,1006.6 L314.7,1006.7 L316.7,1006.8 L318.7,1006.7 L320.7,1006.6 L322.7,1006.4 L324.7,1006.2 L326.7,1005.8 L328.7,1005.4 L330.7,1004.8 L332.7,1004.3 L334.7,1003.6 L336.7,1002.8 L338.7,1002.0 L340.7,1001.0 L342.7,1000.0 L344.7,998.9 L346.7,997.7 L348.7,996.4 L350.7,995.1 L352.7,993.6 L354.7,992.1 L356.7,990.5 L358.7,988.7 L360.7,986.9 L362.7,985.0 L364.7,983.1 L366.7,981.0 L368.7,978.8 L370.7,976.5 L372.7,974.2 L374.7,971.7 L376.7,969.2 L378.7,966.6 L380.7,963.8 L382.7,961.0 L384.7,958.1 L386.7,955.1 L388.7,952.0 L390.7,948.7 L392.7,945.4 L394.7,942.0 L396.7,938.5 L398.7,935.0 L400.7,931.3 L402.7,927.6 L404.7,923.8 L406.7,919.9 L408.7,915.9 L410.7,912.0 L412.7,907.9 L414.7,903.8 L416.7,899.7 L418.7,895.6 L420.7,891.4 L422.7,887.1 L424.7,882.9 L426.7,878.7 L428.7,874.5 L430.7,870.2 L432.7,866.1 L434.7,861.9 L436.7,857.9 L438.7,853.9 L440.7,850.0 L442.7,846.1 L444.7,842.4 L446.7,838.7 L448.7,835.1 L450.7,831.7 L452.7,828.3 L454.7,825.1 L456.7,822.0 L458.7,818.9 L460.7,816.1 L462.7,813.3 L464.7,810.7 L466.7,808.2 L468.7,805.9 L470.7,803.7 L472.7,801.7 L474.7,799.8 L476.7,798.1 L478.7,796.6 L480.7,795.2 L482.7,794.0 L484.7,793.0 L486.7,792.2 L488.7,791.6 L490.7,791.2 L492.7,791.0 L494.7,790.9 L496.7,791.1 L498.7,791.5 L500.7,792.2 L502.7,793.0 L504.7,794.1 L506.7,795.3 L508.7,796.8 L510.7,798.4 L512.7,800.2 L514.7,802.2 L516.7,804.3 L518.7,806.6 L520.7,809.0 L522.7,811.6 L524.7,814.2 L526.7,817.1 L528.7,820.0 L530.7,823.0 L532.7,826.1 L534.7,829.3 L536.7,832.6 L538.7,836.0 L540.7,839.4 L542.7,842.9 L544.7,846.4 L546.7,850.0 L548.7,853.6 L550.7,857.2 L552.7,860.8 L554.7,864.5 L556.7,868.1 L558.7,871.7 L560.7,875.4 L562.7,879.0 L564.7,882.5 L566.7,886.0 L568.7,889.5 L570.7,893.0 L572.7,896.4 L574.7,899.7 L576.7,903.0 L578.7,906.3 L580.7,909.5 L582.7,912.7 L584.7,915.8 L586.7,918.8 L588.7,921.8 L590.7,924.8 L592.7,927.7 L594.7,930.5 L596.7,933.2 L598.7,935.9 L600.7,938.6 L602.7,941.1 L604.7,943.6 L606.7,946.1 L608.7,948.4 L610.7,950.7 L612.7,952.9 L614.7,955.0 L616.7,957.1 L618.7,959.1 L620.7,961.0 L622.7,962.8 L624.7,964.5 L626.7,966.2 L628.7,967.7 L630.7,969.2 L632.7,970.6 L634.7,971.9 L636.7,973.1 L638.7,974.2 L640.7,975.2 L642.7,976.1 L644.7,976.9 L646.7,977.6 L648.7,978.3 L650.7,978.8 L652.7,979.3 L654.7,979.7 L656.7,980.0 L658.7,980.3 L660.7,980.4 L662.7,980.5 L664.7,980.6 L666.7,980.6 L668.7,980.5 L670.7,980.3 L672.7,980.1 L674.7,979.9 L676.7,979.6 L678.7,979.2 L680.7,978.8 L682.7,978.3 L684.7,977.9 L686.7,977.3 L688.7,976.8 L690.7,976.2 L692.7,975.6 L694.7,974.9 L696.7,974.2 L698.7,973.5 L700.7,972.8 L702.7,972.1 L704.7,971.3 L706.7,970.5 L708.7,969.8 L710.7,969.0 L712.7,968.2 L714.7,967.4 L716.7,966.6 L718.7,965.8 L720.7,965.1 L722.7,964.3 L724.7,963.5 L726.7,962.7 L728.7,962.0 L730.7,961.2 L732.7,960.4 L734.7,959.7 L736.7,958.9 L738.7,958.2 L740.7,957.5 L742.7,956.7 L744.7,956.0 L746.7,955.3 L748.7,954.6 L750.7,953.9 L752.7,953.2 L754.7,952.5 L756.7,951.8 L758.7,951.2 L760.7,950.5 L762.7,949.9 L764.7,949.2 L766.7,948.6 L768.7,948.0 L770.7,947.4 L772.7,946.8 L774.7,946.2 L776.7,945.6 L778.7,945.0 L780.7,944.5 L782.7,943.9 L784.7,943.4 L786.7,942.9 L788.7,942.4 L790.7,941.9 L792.7,941.4 L794.7,941.0 L796.7,940.5 L798.7,940.1 L800.7,939.7 L802.7,939.3 L804.7,938.9 L806.7,938.5 L808.7,938.1 L810.7,937.8 L812.7,937.4 L814.7,937.1 L816.7,936.8 L818.7,936.5 L820.7,936.2 L822.7,935.9 L824.7,935.6 L826.7,935.3 L828.7,935.1 L830.7,934.9 L832.7,934.6 L834.7,934.4 L836.7,934.2 L838.7,934.0 L840.7,933.8 L842.7,933.6 L844.7,933.4 L846.7,933.3 L848.7,933.1 L850.7,933.0 L852.7,932.8 L854.7,932.7 L856.7,932.6 L858.7,932.5 L860.7,932.3 L862.7,932.2 L864.7,932.1 L866.7,932.1 L868.7,932.0 L870.7,931.9 L872.7,931.8 L874.7,931.8 L876.7,931.7 L878.7,931.7 L880.7,931.6 L882.7,931.6 L884.7,931.5 L886.7,931.5 L888.7,931.5 L890.7,931.5 L892.7,931.4 L894.7,931.4 L896.7,931.4 L898.7,931.4 L900.7,931.4 L902.7,931.4 L904.7,931.4 L906.7,931.4 L908.7,931.4 L910.7,931.4 L912.7,931.5 L914.7,931.5 L916.7,931.5 L918.7,931.5 L920.7,931.5 L922.7,931.5 L924.7,931.6 L926.7,931.6 L928.7,931.6 L930.7,931.6 L932.7,931.7 L934.7,931.7 L936.7,931.7 L938.7,931.7 L940.7,931.8 L942.7,931.8 L944.7,931.8 L946.7,931.8 L948.7,931.8 L950.7,931.9 L952.7,931.9 L954.7,931.9 L956.7,931.9 L958.7,931.9 L960.7,931.9 L962.7,931.9 L964.7,931.9 L966.7,931.9 L968.7,931.9 L970.7,931.9 L972.7,931.9 L974.7,931.9 L976.7,931.8 L978.7,931.8 L980.7,931.8 L982.7,931.7 L984.7,931.7 L984.9,931.7" stroke="#bbbbbb" stroke-width="5.6" stroke-dasharray="19.98 8.64" stroke-dashoffset="5.94"/>
<path d="M171.0,912.4 L984.9,912.4" stroke="#ee6677" stroke-width="5.6"/>
</g>
<g stroke="#000" stroke-width="1.7" fill="none">
<rect x="171.0" y="25.5" width="813.9" height="650.4"/>
<rect x="171.0" y="695.5" width="813.9" height="650.5999999999999"/>
</g>
<path d="M164.5,25.5H171.0M164.5,59.7H171.0M164.5,94.0H171.0M164.5,128.2H171.0M164.5,162.4H171.0M164.5,196.7H171.0M164.5,230.9H171.0M164.5,265.1H171.0M164.5,299.4H171.0M164.5,333.6H171.0M164.5,367.8H171.0M164.5,402.0H171.0M164.5,436.3H171.0M164.5,470.5H171.0M164.5,504.7H171.0M164.5,539.0H171.0M164.5,573.2H171.0M164.5,607.4H171.0M164.5,641.7H171.0M164.5,675.9H171.0M164.5,695.5H171.0M167.2,847.1H171.0M167.2,808.9H171.0M167.2,781.8H171.0M167.2,760.8H171.0M167.2,743.6H171.0M167.2,729.1H171.0M167.2,716.5H171.0M167.2,705.4H171.0M164.5,912.4H171.0M167.2,1063.9H171.0M167.2,1025.8H171.0M167.2,998.7H171.0M167.2,977.7H171.0M167.2,960.5H171.0M167.2,946.0H171.0M167.2,933.4H171.0M167.2,922.3H171.0M164.5,1129.2H171.0M167.2,1280.8H171.0M167.2,1242.6H171.0M167.2,1215.5H171.0M167.2,1194.5H171.0M167.2,1177.3H171.0M167.2,1162.8H171.0M167.2,1150.2H171.0M167.2,1139.2H171.0M164.5,1346.1H171.0M171.0,675.9v6.5M608.3,675.9v6.5M796.6,675.9v6.5M984.9,675.9v6.5M359.3,675.9v3.8M469.5,675.9v3.8M547.6,675.9v3.8M657.8,675.9v3.8M699.7,675.9v3.8M736.0,675.9v3.8M768.0,675.9v3.8M171.0,1346.1v6.5M608.3,1346.1v6.5M796.6,1346.1v6.5M984.9,1346.1v6.5M359.3,1346.1v3.8M469.5,1346.1v3.8M547.6,1346.1v3.8M657.8,1346.1v3.8M699.7,1346.1v3.8M736.0,1346.1v3.8M768.0,1346.1v3.8" stroke="#000" stroke-width="1.5" fill="none"/>
<text x="154.5" y="38.8" text-anchor="end" font-size="37">10<tspan font-size="26" dy="-13.6">3</tspan></text>
<text x="154.5" y="141.5" text-anchor="end" font-size="37">10<tspan font-size="26" dy="-13.6">0</tspan></text>
<text x="156.7" y="210.0" text-anchor="end" font-size="37">10<tspan font-size="26" dy="-13.6" letter-spacing="2.2">−2</tspan></text>
<text x="156.7" y="278.4" text-anchor="end" font-size="37">10<tspan font-size="26" dy="-13.6" letter-spacing="2.2">−4</tspan></text>
<text x="156.7" y="346.9" text-anchor="end" font-size="37">10<tspan font-size="26" dy="-13.6" letter-spacing="2.2">−6</tspan></text>
<text x="156.7" y="415.3" text-anchor="end" font-size="37">10<tspan font-size="26" dy="-13.6" letter-spacing="2.2">−8</tspan></text>
<text x="156.7" y="483.8" text-anchor="end" font-size="37">10<tspan font-size="26" dy="-13.6" letter-spacing="2.2">−10</tspan></text>
<text x="156.7" y="552.3" text-anchor="end" font-size="37">10<tspan font-size="26" dy="-13.6" letter-spacing="2.2">−12</tspan></text>
<text x="156.7" y="620.7" text-anchor="end" font-size="37">10<tspan font-size="26" dy="-13.6" letter-spacing="2.2">−14</tspan></text>
<text x="156.7" y="689.2" text-anchor="end" font-size="37">10<tspan font-size="26" dy="-13.6" letter-spacing="2.2">−16</tspan></text>
<text x="155.5" y="710.8" text-anchor="end" font-size="34">10<tspan font-size="24" dy="-19.8">1</tspan></text>
<text x="155.5" y="927.7" text-anchor="end" font-size="34">10<tspan font-size="24" dy="-19.8">0</tspan></text>
<text x="155.5" y="1144.5" text-anchor="end" font-size="34">10<tspan font-size="24" dy="-19.8">-1</tspan></text>
<text x="155.5" y="1361.4" text-anchor="end" font-size="34">10<tspan font-size="24" dy="-19.8">-2</tspan></text>
<text x="171.0" y="1383.2" text-anchor="middle" font-size="34">0.1</text>
<text x="608.3" y="1383.2" text-anchor="middle" font-size="34">0.5</text>
<text x="796.6" y="1383.2" text-anchor="middle" font-size="34">1.0</text>
<text x="984.9" y="1383.2" text-anchor="middle" font-size="34">2.0</text>
<text x="577" y="1431.5" text-anchor="middle" font-size="48"><tspan class="it">T</tspan><tspan dx="7">[GK]</tspan></text>
<text transform="translate(89,1020.8) rotate(-90)" text-anchor="middle" font-size="51">ratio</text>
<g transform="translate(51.8,598) rotate(-90)" font-size="46"><text x="0" y="0" class="it" textLength="39" lengthAdjust="spacingAndGlyphs">N</text><text x="32.5" y="7.2" font-size="33">A</text><text x="70" y="8" font-size="60">&lt;</text><text x="114" y="0" class="it">σ</text><text x="140.5" y="0" class="it">ν</text><text x="168.8" y="8" font-size="60">&gt;</text><text x="211" y="2" font-size="53">[</text><text x="224.2" y="0">cm</text><text x="284" y="-18.8" font-size="32">3</text><text x="302.5" y="0">s</text><text x="321.5" y="-18.8" font-size="32" letter-spacing="3.5">−1</text><text x="364.5" y="0" letter-spacing="2.5">mol</text><text x="440.5" y="-18.8" font-size="32" letter-spacing="3.5">−1</text><text x="476.5" y="2" font-size="53">]</text></g>
<path d="M179.90,41.3H218.90" stroke="#66ccee" stroke-width="3.2" fill="none"/>
<text x="222.0" y="50.3" font-size="29.5"><tspan class="it" letter-spacing="1.6">rath</tspan><tspan dy="0" dx="-0.4"> (</tspan><tspan class="it" dx="1.5">S</tspan><tspan font-size="20.5" dy="6.5">p</tspan><tspan dy="-6.5" dx="1.5">=1.955 MeV)</tspan></text>
<path d="M179.90,74.5H218.90" stroke="#4477aa" stroke-width="3.2" fill="none"/>
<text x="222.0" y="83.8" font-size="29.5"><tspan class="it" letter-spacing="2.3">rpsm</tspan><tspan dy="0" dx="-3.1"> (</tspan><tspan class="it" dx="1.5">S</tspan><tspan font-size="20.5" dy="6.5">p</tspan><tspan dy="-6.5" dx="1.5">=2.587 MeV)</tspan></text>
<path d="M179.90,108.1H218.90" stroke="#aa3377" stroke-width="3.2" fill="none"/>
<text x="222.0" y="117.2" font-size="29.5"><tspan class="it" letter-spacing="1.6">thra</tspan><tspan dy="0" dx="-0.7"> (</tspan><tspan class="it" dx="1.5">S</tspan><tspan font-size="20.5" dy="6.5">p</tspan><tspan dy="-6.5" dx="1.5">=2.309 MeV)</tspan></text>
<path d="M179.90,141.7H218.90" stroke="#228833" stroke-width="3.2" fill="none"/>
<text x="222.0" y="150.6" font-size="29.5"><tspan class="it" letter-spacing="0.6">laur</tspan><tspan dy="0" dx="0"> (</tspan><tspan class="it" dx="1.5">S</tspan><tspan font-size="20.5" dy="6.5">p</tspan><tspan dy="-6.5" dx="1.5">=1.909 MeV)</tspan></text>
<path d="M178.80,175.0H220.00" stroke="#000000" stroke-width="5.4" fill="none"/>
<text x="222.0" y="184.0" font-size="29.5"><tspan class="it" letter-spacing="1.7">ths</tspan>8<tspan dy="0" dx="-0.1"> (</tspan><tspan class="it" dx="1.5">S</tspan><tspan font-size="20.5" dy="6.5">p</tspan><tspan dy="-6.5" dx="1.5">=2.349 MeV)</tspan></text>
<path d="M178.80,208.5H220.00" stroke="#ccbb44" stroke-width="5.4" fill="none"/>
<text x="222.0" y="217.9" font-size="29.5" letter-spacing="-0.22">Lam+<tspan dx="-1.5"> (2016)</tspan><tspan dy="0" dx="-1.0"> (</tspan><tspan class="it" dx="1.5">S</tspan><tspan font-size="20.5" dy="6.5">p</tspan><tspan dy="-6.5" dx="1.5">=1.720 MeV)</tspan></text>
<path d="M181.8,245.4H201.8M210.6,245.4H217.3" stroke="#009988" stroke-width="5.4" fill="none"/>
<text x="222.0" y="255.0" font-size="29.5">SHF<tspan font-size="20.5" dy="-12">i</tspan><tspan dy="12" dx="0.5"> (</tspan><tspan class="it" dx="1.5">S</tspan><tspan font-size="20.5" dy="6.5">p</tspan><tspan dy="-6.5" dx="1.5">=2.186 MeV)</tspan></text>
<path d="M181.8,282.4H201.8M210.6,282.4H217.3" stroke="#66ccee" stroke-width="5.4" fill="none"/>
<text x="222.0" y="292.0" font-size="29.5">SHF<tspan font-size="20.5" dy="-12">ii</tspan><tspan dy="12" dx="-0.4"> (</tspan><tspan class="it" dx="1.5">S</tspan><tspan font-size="20.5" dy="6.5">p</tspan><tspan dy="-6.5" dx="1.5">=2.351 MeV)</tspan></text>
<path d="M181.8,319.3H201.8M210.6,319.3H217.3" stroke="#bbbbbb" stroke-width="5.4" fill="none"/>
<text x="222.0" y="328.3" font-size="29.5">RHB Axal<tspan font-size="20.5" dy="-12">i</tspan><tspan dy="12" dx="-0.3"> (</tspan><tspan class="it" dx="1.5">S</tspan><tspan font-size="20.5" dy="6.5">p</tspan><tspan dy="-6.5" dx="1.5">=2.284 MeV)</tspan></text>
<path d="M178.80,352.6H220.00" stroke="#ee6677" stroke-width="5.4" fill="none"/>
<text x="222.0" y="361.2" font-size="29.5"><tspan class="it" letter-spacing="1.3">Present</tspan><tspan dy="0" dx="1.1"> (</tspan><tspan class="it" dx="1.5">S</tspan><tspan font-size="20.5" dy="6.5">p</tspan><tspan dy="-6.5" dx="1.5">=2.469 MeV)</tspan></text>
</svg></body></html>
